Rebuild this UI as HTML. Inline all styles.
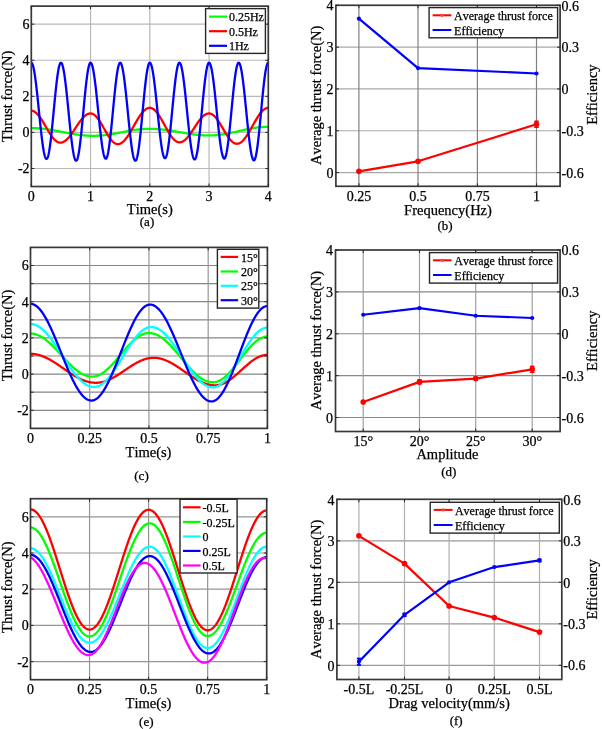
<!DOCTYPE html>
<html><head><meta charset="utf-8"><style>
html,body{margin:0;padding:0;background:#fff;}
svg{display:block;will-change:transform;}
text{font-family:"Liberation Serif", serif;fill:#000;font-kerning:none;stroke:#000;stroke-width:0.25px;}
</style></head><body>
<svg width="602" height="729" viewBox="0 0 602 729">
<rect width="602" height="729" fill="#fff"/>
<line x1="31.3" y1="24.16000000000001" x2="268.3" y2="24.16000000000001" stroke="#b8b8b8" stroke-width="1.2"/><line x1="31.3" y1="60.24000000000001" x2="268.3" y2="60.24000000000001" stroke="#b8b8b8" stroke-width="1.2"/><line x1="31.3" y1="96.32000000000001" x2="268.3" y2="96.32000000000001" stroke="#b8b8b8" stroke-width="1.2"/><line x1="31.3" y1="132.4" x2="268.3" y2="132.4" stroke="#b8b8b8" stroke-width="1.2"/><line x1="31.3" y1="168.48000000000002" x2="268.3" y2="168.48000000000002" stroke="#b8b8b8" stroke-width="1.2"/><line x1="90.55" y1="6.1200000000000045" x2="90.55" y2="186.52" stroke="#b8b8b8" stroke-width="1.2"/><line x1="149.8" y1="6.1200000000000045" x2="149.8" y2="186.52" stroke="#b8b8b8" stroke-width="1.2"/><line x1="209.05" y1="6.1200000000000045" x2="209.05" y2="186.52" stroke="#b8b8b8" stroke-width="1.2"/><path d="M31.30,128.07 L31.60,128.07 L31.89,128.07 L32.19,128.07 L32.48,128.08 L32.78,128.08 L33.08,128.09 L33.37,128.09 L33.67,128.10 L33.97,128.11 L34.26,128.11 L34.56,128.12 L34.86,128.13 L35.15,128.14 L35.45,128.16 L35.74,128.17 L36.04,128.18 L36.34,128.20 L36.63,128.21 L36.93,128.23 L37.23,128.24 L37.52,128.26 L37.82,128.28 L38.11,128.30 L38.41,128.32 L38.71,128.34 L39.00,128.36 L39.30,128.38 L39.59,128.41 L39.89,128.43 L40.19,128.45 L40.48,128.48 L40.78,128.51 L41.08,128.53 L41.37,128.56 L41.67,128.59 L41.97,128.62 L42.26,128.65 L42.56,128.68 L42.85,128.71 L43.15,128.74 L43.45,128.78 L43.74,128.81 L44.04,128.85 L44.34,128.88 L44.63,128.92 L44.93,128.95 L45.22,128.99 L45.52,129.03 L45.82,129.07 L46.11,129.11 L46.41,129.15 L46.70,129.19 L47.00,129.23 L47.30,129.27 L47.59,129.31 L47.89,129.35 L48.19,129.40 L48.48,129.44 L48.78,129.49 L49.08,129.53 L49.37,129.58 L49.67,129.62 L49.96,129.67 L50.26,129.72 L50.56,129.76 L50.85,129.81 L51.15,129.86 L51.45,129.91 L51.74,129.96 L52.04,130.01 L52.33,130.06 L52.63,130.11 L52.93,130.16 L53.22,130.21 L53.52,130.27 L53.81,130.32 L54.11,130.37 L54.41,130.42 L54.70,130.48 L55.00,130.53 L55.30,130.59 L55.59,130.64 L55.89,130.70 L56.19,130.75 L56.48,130.81 L56.78,130.86 L57.07,130.92 L57.37,130.97 L57.67,131.03 L57.96,131.09 L58.26,131.14 L58.56,131.20 L58.85,131.26 L59.15,131.31 L59.44,131.37 L59.74,131.43 L60.04,131.49 L60.33,131.54 L60.63,131.60 L60.92,131.66 L61.22,131.72 L61.52,131.77 L61.81,131.83 L62.11,131.89 L62.41,131.95 L62.70,132.01 L63.00,132.07 L63.30,132.12 L63.59,132.18 L63.89,132.24 L64.18,132.30 L64.48,132.35 L64.78,132.41 L65.07,132.47 L65.37,132.53 L65.66,132.58 L65.96,132.64 L66.26,132.70 L66.55,132.76 L66.85,132.81 L67.15,132.87 L67.44,132.92 L67.74,132.98 L68.03,133.04 L68.33,133.09 L68.63,133.15 L68.92,133.20 L69.22,133.26 L69.52,133.31 L69.81,133.37 L70.11,133.42 L70.41,133.47 L70.70,133.53 L71.00,133.58 L71.29,133.63 L71.59,133.68 L71.89,133.74 L72.18,133.79 L72.48,133.84 L72.77,133.89 L73.07,133.94 L73.37,133.99 L73.66,134.04 L73.96,134.09 L74.26,134.13 L74.55,134.18 L74.85,134.23 L75.14,134.28 L75.44,134.32 L75.74,134.37 L76.03,134.41 L76.33,134.46 L76.63,134.50 L76.92,134.54 L77.22,134.59 L77.52,134.63 L77.81,134.67 L78.11,134.71 L78.40,134.75 L78.70,134.79 L79.00,134.83 L79.29,134.87 L79.59,134.91 L79.88,134.94 L80.18,134.98 L80.48,135.02 L80.77,135.05 L81.07,135.09 L81.37,135.12 L81.66,135.15 L81.96,135.19 L82.25,135.22 L82.55,135.25 L82.85,135.28 L83.14,135.31 L83.44,135.34 L83.74,135.36 L84.03,135.39 L84.33,135.42 L84.62,135.44 L84.92,135.47 L85.22,135.49 L85.51,135.52 L85.81,135.54 L86.11,135.56 L86.40,135.58 L86.70,135.60 L87.00,135.62 L87.29,135.64 L87.59,135.66 L87.88,135.67 L88.18,135.69 L88.48,135.70 L88.77,135.72 L89.07,135.73 L89.36,135.74 L89.66,135.75 L89.96,135.77 L90.25,135.78 L90.55,135.78 L90.85,135.79 L91.14,135.80 L91.44,135.81 L91.73,135.81 L92.03,135.82 L92.33,135.82 L92.62,135.82 L92.92,135.83 L93.22,135.83 L93.51,135.83 L93.81,135.83 L94.11,135.83 L94.40,135.82 L94.70,135.82 L94.99,135.82 L95.29,135.81 L95.59,135.80 L95.88,135.80 L96.18,135.79 L96.48,135.78 L96.77,135.77 L97.07,135.76 L97.36,135.75 L97.66,135.73 L97.96,135.72 L98.25,135.71 L98.55,135.69 L98.84,135.67 L99.14,135.66 L99.44,135.64 L99.73,135.62 L100.03,135.60 L100.33,135.58 L100.62,135.55 L100.92,135.53 L101.21,135.51 L101.51,135.48 L101.81,135.46 L102.10,135.43 L102.40,135.40 L102.70,135.38 L102.99,135.35 L103.29,135.32 L103.58,135.29 L103.88,135.25 L104.18,135.22 L104.47,135.19 L104.77,135.16 L105.07,135.12 L105.36,135.09 L105.66,135.05 L105.95,135.01 L106.25,134.98 L106.55,134.94 L106.84,134.90 L107.14,134.86 L107.44,134.82 L107.73,134.78 L108.03,134.73 L108.33,134.69 L108.62,134.65 L108.92,134.61 L109.21,134.56 L109.51,134.52 L109.81,134.47 L110.10,134.42 L110.40,134.38 L110.70,134.33 L110.99,134.28 L111.29,134.23 L111.58,134.18 L111.88,134.14 L112.18,134.09 L112.47,134.04 L112.77,133.98 L113.06,133.93 L113.36,133.88 L113.66,133.83 L113.95,133.78 L114.25,133.72 L114.55,133.67 L114.84,133.62 L115.14,133.56 L115.43,133.51 L115.73,133.45 L116.03,133.40 L116.32,133.34 L116.62,133.29 L116.92,133.23 L117.21,133.17 L117.51,133.12 L117.80,133.06 L118.10,133.00 L118.40,132.95 L118.69,132.89 L118.99,132.83 L119.29,132.77 L119.58,132.72 L119.88,132.66 L120.17,132.60 L120.47,132.54 L120.77,132.48 L121.06,132.43 L121.36,132.37 L121.66,132.31 L121.95,132.25 L122.25,132.19 L122.55,132.14 L122.84,132.08 L123.14,132.02 L123.43,131.96 L123.73,131.90 L124.03,131.85 L124.32,131.79 L124.62,131.73 L124.92,131.67 L125.21,131.62 L125.51,131.56 L125.80,131.50 L126.10,131.45 L126.40,131.39 L126.69,131.33 L126.99,131.28 L127.28,131.22 L127.58,131.17 L127.88,131.11 L128.17,131.06 L128.47,131.00 L128.77,130.95 L129.06,130.90 L129.36,130.84 L129.66,130.79 L129.95,130.74 L130.25,130.69 L130.54,130.64 L130.84,130.58 L131.14,130.53 L131.43,130.48 L131.73,130.43 L132.03,130.39 L132.32,130.34 L132.62,130.29 L132.91,130.24 L133.21,130.20 L133.51,130.15 L133.80,130.10 L134.10,130.06 L134.40,130.01 L134.69,129.97 L134.99,129.93 L135.28,129.88 L135.58,129.84 L135.88,129.80 L136.17,129.76 L136.47,129.72 L136.77,129.68 L137.06,129.64 L137.36,129.61 L137.65,129.57 L137.95,129.53 L138.25,129.50 L138.54,129.46 L138.84,129.43 L139.14,129.40 L139.43,129.36 L139.73,129.33 L140.02,129.30 L140.32,129.27 L140.62,129.24 L140.91,129.22 L141.21,129.19 L141.51,129.16 L141.80,129.14 L142.10,129.11 L142.39,129.09 L142.69,129.07 L142.99,129.04 L143.28,129.02 L143.58,129.00 L143.88,128.98 L144.17,128.96 L144.47,128.95 L144.76,128.93 L145.06,128.91 L145.36,128.90 L145.65,128.89 L145.95,128.87 L146.25,128.86 L146.54,128.85 L146.84,128.84 L147.13,128.83 L147.43,128.82 L147.73,128.82 L148.02,128.81 L148.32,128.80 L148.62,128.80 L148.91,128.80 L149.21,128.79 L149.50,128.79 L149.80,128.79 L150.10,128.79 L150.39,128.79 L150.69,128.80 L150.99,128.80 L151.28,128.80 L151.58,128.81 L151.87,128.81 L152.17,128.82 L152.47,128.83 L152.76,128.83 L153.06,128.84 L153.36,128.85 L153.65,128.86 L153.95,128.87 L154.24,128.88 L154.54,128.90 L154.84,128.91 L155.13,128.92 L155.43,128.94 L155.73,128.96 L156.02,128.97 L156.32,128.99 L156.61,129.01 L156.91,129.03 L157.21,129.05 L157.50,129.07 L157.80,129.09 L158.09,129.11 L158.39,129.13 L158.69,129.16 L158.98,129.18 L159.28,129.20 L159.58,129.23 L159.87,129.26 L160.17,129.28 L160.47,129.31 L160.76,129.34 L161.06,129.37 L161.35,129.40 L161.65,129.43 L161.95,129.46 L162.24,129.49 L162.54,129.52 L162.84,129.56 L163.13,129.59 L163.43,129.63 L163.72,129.66 L164.02,129.70 L164.32,129.73 L164.61,129.77 L164.91,129.81 L165.21,129.84 L165.50,129.88 L165.80,129.92 L166.09,129.96 L166.39,130.00 L166.69,130.04 L166.98,130.08 L167.28,130.13 L167.57,130.17 L167.87,130.21 L168.17,130.25 L168.46,130.30 L168.76,130.34 L169.06,130.39 L169.35,130.43 L169.65,130.48 L169.94,130.52 L170.24,130.57 L170.54,130.61 L170.83,130.66 L171.13,130.71 L171.43,130.76 L171.72,130.80 L172.02,130.85 L172.31,130.90 L172.61,130.95 L172.91,131.00 L173.20,131.05 L173.50,131.10 L173.80,131.15 L174.09,131.20 L174.39,131.25 L174.69,131.30 L174.98,131.35 L175.28,131.40 L175.57,131.45 L175.87,131.50 L176.17,131.56 L176.46,131.61 L176.76,131.66 L177.06,131.71 L177.35,131.76 L177.65,131.82 L177.94,131.87 L178.24,131.92 L178.54,131.97 L178.83,132.02 L179.13,132.08 L179.43,132.13 L179.72,132.18 L180.02,132.23 L180.31,132.29 L180.61,132.34 L180.91,132.39 L181.20,132.44 L181.50,132.50 L181.80,132.55 L182.09,132.60 L182.39,132.65 L182.68,132.70 L182.98,132.75 L183.28,132.81 L183.57,132.86 L183.87,132.91 L184.17,132.96 L184.46,133.01 L184.76,133.06 L185.05,133.11 L185.35,133.16 L185.65,133.21 L185.94,133.26 L186.24,133.31 L186.54,133.36 L186.83,133.41 L187.13,133.45 L187.42,133.50 L187.72,133.55 L188.02,133.60 L188.31,133.64 L188.61,133.69 L188.91,133.74 L189.20,133.78 L189.50,133.83 L189.79,133.87 L190.09,133.92 L190.39,133.96 L190.68,134.01 L190.98,134.05 L191.28,134.09 L191.57,134.13 L191.87,134.17 L192.16,134.22 L192.46,134.26 L192.76,134.30 L193.05,134.34 L193.35,134.38 L193.65,134.41 L193.94,134.45 L194.24,134.49 L194.53,134.53 L194.83,134.56 L195.13,134.60 L195.42,134.63 L195.72,134.67 L196.01,134.70 L196.31,134.73 L196.61,134.77 L196.90,134.80 L197.20,134.83 L197.50,134.86 L197.79,134.89 L198.09,134.92 L198.38,134.95 L198.68,134.98 L198.98,135.00 L199.27,135.03 L199.57,135.05 L199.87,135.08 L200.16,135.10 L200.46,135.13 L200.75,135.15 L201.05,135.17 L201.35,135.19 L201.64,135.21 L201.94,135.23 L202.24,135.25 L202.53,135.27 L202.83,135.29 L203.12,135.30 L203.42,135.32 L203.72,135.33 L204.01,135.35 L204.31,135.36 L204.61,135.37 L204.90,135.39 L205.20,135.40 L205.50,135.41 L205.79,135.42 L206.09,135.43 L206.38,135.43 L206.68,135.44 L206.98,135.45 L207.27,135.45 L207.57,135.46 L207.87,135.46 L208.16,135.46 L208.46,135.47 L208.75,135.47 L209.05,135.47 L209.35,135.47 L209.64,135.46 L209.94,135.46 L210.24,135.46 L210.53,135.45 L210.83,135.45 L211.12,135.44 L211.42,135.43 L211.72,135.42 L212.01,135.41 L212.31,135.40 L212.61,135.39 L212.90,135.38 L213.20,135.36 L213.49,135.35 L213.79,135.33 L214.09,135.31 L214.38,135.29 L214.68,135.28 L214.98,135.25 L215.27,135.23 L215.57,135.21 L215.86,135.19 L216.16,135.16 L216.46,135.14 L216.75,135.11 L217.05,135.08 L217.35,135.05 L217.64,135.03 L217.94,134.99 L218.23,134.96 L218.53,134.93 L218.83,134.90 L219.12,134.86 L219.42,134.83 L219.72,134.79 L220.01,134.76 L220.31,134.72 L220.60,134.68 L220.90,134.64 L221.20,134.60 L221.49,134.56 L221.79,134.52 L222.09,134.47 L222.38,134.43 L222.68,134.38 L222.97,134.34 L223.27,134.29 L223.57,134.25 L223.86,134.20 L224.16,134.15 L224.46,134.10 L224.75,134.05 L225.05,134.00 L225.34,133.95 L225.64,133.90 L225.94,133.84 L226.23,133.79 L226.53,133.74 L226.82,133.68 L227.12,133.63 L227.42,133.57 L227.71,133.51 L228.01,133.46 L228.31,133.40 L228.60,133.34 L228.90,133.28 L229.19,133.22 L229.49,133.16 L229.79,133.10 L230.08,133.04 L230.38,132.98 L230.68,132.92 L230.97,132.86 L231.27,132.79 L231.56,132.73 L231.86,132.67 L232.16,132.60 L232.45,132.54 L232.75,132.48 L233.05,132.41 L233.34,132.35 L233.64,132.28 L233.94,132.21 L234.23,132.15 L234.53,132.08 L234.82,132.02 L235.12,131.95 L235.42,131.88 L235.71,131.81 L236.01,131.75 L236.31,131.68 L236.60,131.61 L236.90,131.54 L237.19,131.48 L237.49,131.41 L237.79,131.34 L238.08,131.27 L238.38,131.21 L238.68,131.14 L238.97,131.07 L239.27,131.00 L239.56,130.93 L239.86,130.87 L240.16,130.80 L240.45,130.73 L240.75,130.66 L241.05,130.59 L241.34,130.53 L241.64,130.46 L241.93,130.39 L242.23,130.33 L242.53,130.26 L242.82,130.19 L243.12,130.13 L243.42,130.06 L243.71,129.99 L244.01,129.93 L244.30,129.86 L244.60,129.80 L244.90,129.73 L245.19,129.67 L245.49,129.61 L245.79,129.54 L246.08,129.48 L246.38,129.42 L246.67,129.36 L246.97,129.29 L247.27,129.23 L247.56,129.17 L247.86,129.11 L248.16,129.05 L248.45,128.99 L248.75,128.93 L249.04,128.87 L249.34,128.82 L249.64,128.76 L249.93,128.70 L250.23,128.65 L250.53,128.59 L250.82,128.54 L251.12,128.48 L251.41,128.43 L251.71,128.38 L252.01,128.33 L252.30,128.27 L252.60,128.22 L252.90,128.17 L253.19,128.12 L253.49,128.08 L253.78,128.03 L254.08,127.98 L254.38,127.93 L254.67,127.89 L254.97,127.84 L255.26,127.80 L255.56,127.76 L255.86,127.72 L256.15,127.67 L256.45,127.63 L256.75,127.59 L257.04,127.56 L257.34,127.52 L257.63,127.48 L257.93,127.45 L258.23,127.41 L258.52,127.38 L258.82,127.34 L259.12,127.31 L259.41,127.28 L259.71,127.25 L260.00,127.22 L260.30,127.19 L260.60,127.16 L260.89,127.14 L261.19,127.11 L261.49,127.09 L261.78,127.06 L262.08,127.04 L262.38,127.02 L262.67,127.00 L262.97,126.98 L263.26,126.96 L263.56,126.94 L263.86,126.93 L264.15,126.91 L264.45,126.90 L264.75,126.88 L265.04,126.87 L265.34,126.86 L265.63,126.85 L265.93,126.84 L266.23,126.83 L266.52,126.83 L266.82,126.82 L267.12,126.82 L267.41,126.81 L267.71,126.81 L268.00,126.81 L268.30,126.81" fill="none" stroke="#00ff00" stroke-width="2.3" stroke-linejoin="round"/><path d="M31.30,110.75 L31.60,110.76 L31.89,110.78 L32.19,110.83 L32.48,110.88 L32.78,110.96 L33.08,111.05 L33.37,111.15 L33.67,111.27 L33.97,111.41 L34.26,111.57 L34.56,111.73 L34.86,111.92 L35.15,112.12 L35.45,112.33 L35.74,112.56 L36.04,112.81 L36.34,113.06 L36.63,113.34 L36.93,113.62 L37.23,113.92 L37.52,114.24 L37.82,114.56 L38.11,114.90 L38.41,115.25 L38.71,115.61 L39.00,115.98 L39.30,116.37 L39.59,116.76 L39.89,117.17 L40.19,117.58 L40.48,118.01 L40.78,118.44 L41.08,118.88 L41.37,119.33 L41.67,119.79 L41.97,120.25 L42.26,120.73 L42.56,121.20 L42.85,121.69 L43.15,122.17 L43.45,122.67 L43.74,123.16 L44.04,123.67 L44.34,124.17 L44.63,124.68 L44.93,125.18 L45.22,125.69 L45.52,126.21 L45.82,126.72 L46.11,127.23 L46.41,127.74 L46.70,128.25 L47.00,128.76 L47.30,129.27 L47.59,129.77 L47.89,130.27 L48.19,130.77 L48.48,131.26 L48.78,131.75 L49.08,132.23 L49.37,132.71 L49.67,133.18 L49.96,133.64 L50.26,134.10 L50.56,134.55 L50.85,134.99 L51.15,135.43 L51.45,135.85 L51.74,136.27 L52.04,136.67 L52.33,137.07 L52.63,137.45 L52.93,137.82 L53.22,138.19 L53.52,138.54 L53.81,138.87 L54.11,139.20 L54.41,139.51 L54.70,139.81 L55.00,140.10 L55.30,140.37 L55.59,140.63 L55.89,140.87 L56.19,141.10 L56.48,141.32 L56.78,141.52 L57.07,141.70 L57.37,141.87 L57.67,142.02 L57.96,142.16 L58.26,142.28 L58.56,142.39 L58.85,142.48 L59.15,142.55 L59.44,142.61 L59.74,142.65 L60.04,142.67 L60.33,142.68 L60.63,142.68 L60.92,142.66 L61.22,142.62 L61.52,142.57 L61.81,142.51 L62.11,142.43 L62.41,142.34 L62.70,142.24 L63.00,142.12 L63.30,142.00 L63.59,141.85 L63.89,141.70 L64.18,141.53 L64.48,141.35 L64.78,141.15 L65.07,140.94 L65.37,140.73 L65.66,140.49 L65.96,140.25 L66.26,140.00 L66.55,139.73 L66.85,139.45 L67.15,139.17 L67.44,138.87 L67.74,138.56 L68.03,138.24 L68.33,137.91 L68.63,137.58 L68.92,137.23 L69.22,136.88 L69.52,136.51 L69.81,136.14 L70.11,135.76 L70.41,135.38 L70.70,134.98 L71.00,134.58 L71.29,134.18 L71.59,133.77 L71.89,133.35 L72.18,132.93 L72.48,132.50 L72.77,132.07 L73.07,131.63 L73.37,131.20 L73.66,130.76 L73.96,130.31 L74.26,129.87 L74.55,129.42 L74.85,128.97 L75.14,128.52 L75.44,128.07 L75.74,127.62 L76.03,127.17 L76.33,126.72 L76.63,126.27 L76.92,125.83 L77.22,125.39 L77.52,124.94 L77.81,124.51 L78.11,124.07 L78.40,123.64 L78.70,123.21 L79.00,122.79 L79.29,122.37 L79.59,121.96 L79.88,121.56 L80.18,121.16 L80.48,120.76 L80.77,120.38 L81.07,120.00 L81.37,119.63 L81.66,119.26 L81.96,118.91 L82.25,118.56 L82.55,118.23 L82.85,117.90 L83.14,117.58 L83.44,117.27 L83.74,116.97 L84.03,116.69 L84.33,116.41 L84.62,116.14 L84.92,115.89 L85.22,115.65 L85.51,115.42 L85.81,115.20 L86.11,114.99 L86.40,114.80 L86.70,114.61 L87.00,114.44 L87.29,114.29 L87.59,114.15 L87.88,114.02 L88.18,113.90 L88.48,113.80 L88.77,113.71 L89.07,113.63 L89.36,113.57 L89.66,113.52 L89.96,113.49 L90.25,113.46 L90.55,113.46 L90.85,113.47 L91.14,113.49 L91.44,113.54 L91.73,113.60 L92.03,113.68 L92.33,113.78 L92.62,113.89 L92.92,114.03 L93.22,114.18 L93.51,114.34 L93.81,114.53 L94.11,114.73 L94.40,114.94 L94.70,115.18 L94.99,115.43 L95.29,115.69 L95.59,115.97 L95.88,116.26 L96.18,116.57 L96.48,116.90 L96.77,117.23 L97.07,117.59 L97.36,117.95 L97.66,118.33 L97.96,118.71 L98.25,119.11 L98.55,119.53 L98.84,119.95 L99.14,120.38 L99.44,120.82 L99.73,121.28 L100.03,121.74 L100.33,122.21 L100.62,122.68 L100.92,123.17 L101.21,123.66 L101.51,124.15 L101.81,124.65 L102.10,125.16 L102.40,125.67 L102.70,126.19 L102.99,126.70 L103.29,127.22 L103.58,127.75 L103.88,128.27 L104.18,128.79 L104.47,129.32 L104.77,129.84 L105.07,130.36 L105.36,130.88 L105.66,131.40 L105.95,131.91 L106.25,132.42 L106.55,132.93 L106.84,133.43 L107.14,133.93 L107.44,134.42 L107.73,134.90 L108.03,135.38 L108.33,135.85 L108.62,136.31 L108.92,136.76 L109.21,137.20 L109.51,137.63 L109.81,138.06 L110.10,138.47 L110.40,138.87 L110.70,139.26 L110.99,139.63 L111.29,140.00 L111.58,140.35 L111.88,140.69 L112.18,141.01 L112.47,141.32 L112.77,141.61 L113.06,141.89 L113.36,142.16 L113.66,142.41 L113.95,142.64 L114.25,142.86 L114.55,143.06 L114.84,143.24 L115.14,143.41 L115.43,143.56 L115.73,143.69 L116.03,143.81 L116.32,143.90 L116.62,143.98 L116.92,144.05 L117.21,144.09 L117.51,144.12 L117.80,144.13 L118.10,144.12 L118.40,144.10 L118.69,144.06 L118.99,144.00 L119.29,143.93 L119.58,143.85 L119.88,143.75 L120.17,143.64 L120.47,143.51 L120.77,143.36 L121.06,143.21 L121.36,143.03 L121.66,142.85 L121.95,142.64 L122.25,142.43 L122.55,142.20 L122.84,141.95 L123.14,141.70 L123.43,141.43 L123.73,141.14 L124.03,140.85 L124.32,140.54 L124.62,140.22 L124.92,139.88 L125.21,139.54 L125.51,139.18 L125.80,138.82 L126.10,138.44 L126.40,138.05 L126.69,137.65 L126.99,137.24 L127.28,136.82 L127.58,136.39 L127.88,135.96 L128.17,135.51 L128.47,135.06 L128.77,134.60 L129.06,134.13 L129.36,133.66 L129.66,133.18 L129.95,132.69 L130.25,132.20 L130.54,131.70 L130.84,131.20 L131.14,130.69 L131.43,130.18 L131.73,129.66 L132.03,129.14 L132.32,128.62 L132.62,128.10 L132.91,127.58 L133.21,127.05 L133.51,126.52 L133.80,126.00 L134.10,125.47 L134.40,124.94 L134.69,124.42 L134.99,123.89 L135.28,123.37 L135.58,122.85 L135.88,122.33 L136.17,121.81 L136.47,121.30 L136.77,120.80 L137.06,120.29 L137.36,119.79 L137.65,119.30 L137.95,118.81 L138.25,118.33 L138.54,117.86 L138.84,117.39 L139.14,116.93 L139.43,116.48 L139.73,116.03 L140.02,115.60 L140.32,115.17 L140.62,114.75 L140.91,114.34 L141.21,113.94 L141.51,113.55 L141.80,113.18 L142.10,112.81 L142.39,112.45 L142.69,112.11 L142.99,111.77 L143.28,111.45 L143.58,111.14 L143.88,110.85 L144.17,110.56 L144.47,110.29 L144.76,110.04 L145.06,109.79 L145.36,109.56 L145.65,109.35 L145.95,109.15 L146.25,108.96 L146.54,108.79 L146.84,108.63 L147.13,108.48 L147.43,108.35 L147.73,108.24 L148.02,108.14 L148.32,108.06 L148.62,107.99 L148.91,107.93 L149.21,107.90 L149.50,107.87 L149.80,107.87 L150.10,107.87 L150.39,107.90 L150.69,107.94 L150.99,108.00 L151.28,108.08 L151.58,108.17 L151.87,108.28 L152.17,108.41 L152.47,108.55 L152.76,108.71 L153.06,108.88 L153.36,109.08 L153.65,109.28 L153.95,109.51 L154.24,109.74 L154.54,110.00 L154.84,110.26 L155.13,110.55 L155.43,110.84 L155.73,111.16 L156.02,111.48 L156.32,111.82 L156.61,112.17 L156.91,112.53 L157.21,112.91 L157.50,113.30 L157.80,113.70 L158.09,114.11 L158.39,114.53 L158.69,114.97 L158.98,115.41 L159.28,115.86 L159.58,116.32 L159.87,116.79 L160.17,117.27 L160.47,117.76 L160.76,118.25 L161.06,118.75 L161.35,119.26 L161.65,119.77 L161.95,120.29 L162.24,120.81 L162.54,121.34 L162.84,121.87 L163.13,122.40 L163.43,122.93 L163.72,123.47 L164.02,124.01 L164.32,124.55 L164.61,125.09 L164.91,125.63 L165.21,126.18 L165.50,126.72 L165.80,127.25 L166.09,127.79 L166.39,128.32 L166.69,128.85 L166.98,129.38 L167.28,129.90 L167.57,130.42 L167.87,130.93 L168.17,131.44 L168.46,131.94 L168.76,132.43 L169.06,132.92 L169.35,133.39 L169.65,133.86 L169.94,134.33 L170.24,134.78 L170.54,135.22 L170.83,135.65 L171.13,136.08 L171.43,136.49 L171.72,136.89 L172.02,137.28 L172.31,137.65 L172.61,138.02 L172.91,138.37 L173.20,138.71 L173.50,139.03 L173.80,139.34 L174.09,139.64 L174.39,139.92 L174.69,140.19 L174.98,140.44 L175.28,140.68 L175.57,140.91 L175.87,141.11 L176.17,141.30 L176.46,141.48 L176.76,141.64 L177.06,141.78 L177.35,141.91 L177.65,142.02 L177.94,142.11 L178.24,142.19 L178.54,142.25 L178.83,142.29 L179.13,142.31 L179.43,142.32 L179.72,142.31 L180.02,142.29 L180.31,142.26 L180.61,142.21 L180.91,142.14 L181.20,142.07 L181.50,141.97 L181.80,141.87 L182.09,141.75 L182.39,141.62 L182.68,141.47 L182.98,141.31 L183.28,141.14 L183.57,140.95 L183.87,140.75 L184.17,140.54 L184.46,140.31 L184.76,140.08 L185.05,139.83 L185.35,139.57 L185.65,139.29 L185.94,139.01 L186.24,138.72 L186.54,138.41 L186.83,138.09 L187.13,137.77 L187.42,137.43 L187.72,137.09 L188.02,136.74 L188.31,136.37 L188.61,136.00 L188.91,135.62 L189.20,135.24 L189.50,134.84 L189.79,134.44 L190.09,134.03 L190.39,133.62 L190.68,133.20 L190.98,132.78 L191.28,132.35 L191.57,131.92 L191.87,131.48 L192.16,131.04 L192.46,130.59 L192.76,130.15 L193.05,129.70 L193.35,129.25 L193.65,128.80 L193.94,128.34 L194.24,127.89 L194.53,127.44 L194.83,126.98 L195.13,126.53 L195.42,126.08 L195.72,125.63 L196.01,125.19 L196.31,124.74 L196.61,124.30 L196.90,123.86 L197.20,123.43 L197.50,123.00 L197.79,122.58 L198.09,122.16 L198.38,121.75 L198.68,121.34 L198.98,120.94 L199.27,120.54 L199.57,120.16 L199.87,119.78 L200.16,119.41 L200.46,119.04 L200.75,118.69 L201.05,118.35 L201.35,118.01 L201.64,117.69 L201.94,117.37 L202.24,117.06 L202.53,116.77 L202.83,116.49 L203.12,116.21 L203.42,115.95 L203.72,115.70 L204.01,115.47 L204.31,115.24 L204.61,115.03 L204.90,114.83 L205.20,114.64 L205.50,114.47 L205.79,114.31 L206.09,114.16 L206.38,114.03 L206.68,113.91 L206.98,113.81 L207.27,113.71 L207.57,113.64 L207.87,113.57 L208.16,113.52 L208.46,113.49 L208.75,113.47 L209.05,113.46 L209.35,113.47 L209.64,113.49 L209.94,113.53 L210.24,113.59 L210.53,113.67 L210.83,113.76 L211.12,113.87 L211.42,114.00 L211.72,114.14 L212.01,114.30 L212.31,114.47 L212.61,114.66 L212.90,114.87 L213.20,115.09 L213.49,115.32 L213.79,115.57 L214.09,115.84 L214.38,116.12 L214.68,116.41 L214.98,116.72 L215.27,117.04 L215.57,117.37 L215.86,117.72 L216.16,118.08 L216.46,118.45 L216.75,118.83 L217.05,119.22 L217.35,119.62 L217.64,120.04 L217.94,120.46 L218.23,120.89 L218.53,121.33 L218.83,121.78 L219.12,122.23 L219.42,122.70 L219.72,123.17 L220.01,123.64 L220.31,124.12 L220.60,124.61 L220.90,125.10 L221.20,125.59 L221.49,126.09 L221.79,126.59 L222.09,127.09 L222.38,127.60 L222.68,128.11 L222.97,128.61 L223.27,129.12 L223.57,129.62 L223.86,130.13 L224.16,130.63 L224.46,131.13 L224.75,131.63 L225.05,132.12 L225.34,132.62 L225.64,133.10 L225.94,133.58 L226.23,134.06 L226.53,134.53 L226.82,134.99 L227.12,135.45 L227.42,135.89 L227.71,136.33 L228.01,136.77 L228.31,137.19 L228.60,137.60 L228.90,138.00 L229.19,138.40 L229.49,138.78 L229.79,139.15 L230.08,139.50 L230.38,139.85 L230.68,140.18 L230.97,140.50 L231.27,140.81 L231.56,141.10 L231.86,141.38 L232.16,141.65 L232.45,141.90 L232.75,142.14 L233.05,142.36 L233.34,142.56 L233.64,142.75 L233.94,142.93 L234.23,143.08 L234.53,143.23 L234.82,143.35 L235.12,143.46 L235.42,143.55 L235.71,143.63 L236.01,143.69 L236.31,143.73 L236.60,143.76 L236.90,143.77 L237.19,143.76 L237.49,143.73 L237.79,143.69 L238.08,143.64 L238.38,143.57 L238.68,143.48 L238.97,143.38 L239.27,143.26 L239.56,143.13 L239.86,142.98 L240.16,142.82 L240.45,142.64 L240.75,142.45 L241.05,142.24 L241.34,142.02 L241.64,141.78 L241.93,141.53 L242.23,141.27 L242.53,140.99 L242.82,140.70 L243.12,140.40 L243.42,140.08 L243.71,139.75 L244.01,139.41 L244.30,139.06 L244.60,138.69 L244.90,138.32 L245.19,137.93 L245.49,137.53 L245.79,137.13 L246.08,136.71 L246.38,136.28 L246.67,135.84 L246.97,135.40 L247.27,134.94 L247.56,134.48 L247.86,134.01 L248.16,133.53 L248.45,133.05 L248.75,132.56 L249.04,132.07 L249.34,131.56 L249.64,131.06 L249.93,130.55 L250.23,130.03 L250.53,129.51 L250.82,128.99 L251.12,128.47 L251.41,127.94 L251.71,127.41 L252.01,126.88 L252.30,126.35 L252.60,125.82 L252.90,125.28 L253.19,124.75 L253.49,124.22 L253.78,123.69 L254.08,123.17 L254.38,122.64 L254.67,122.12 L254.97,121.60 L255.26,121.08 L255.56,120.57 L255.86,120.07 L256.15,119.57 L256.45,119.07 L256.75,118.58 L257.04,118.10 L257.34,117.62 L257.63,117.15 L257.93,116.69 L258.23,116.23 L258.52,115.79 L258.82,115.35 L259.12,114.92 L259.41,114.51 L259.71,114.10 L260.00,113.70 L260.30,113.31 L260.60,112.94 L260.89,112.57 L261.19,112.22 L261.49,111.88 L261.78,111.55 L262.08,111.23 L262.38,110.93 L262.67,110.64 L262.97,110.36 L263.26,110.10 L263.56,109.85 L263.86,109.61 L264.15,109.39 L264.45,109.18 L264.75,108.99 L265.04,108.81 L265.34,108.65 L265.63,108.50 L265.93,108.37 L266.23,108.25 L266.52,108.15 L266.82,108.06 L267.12,107.99 L267.41,107.94 L267.71,107.90 L268.00,107.87 L268.30,107.87" fill="none" stroke="#ff0000" stroke-width="2.3" stroke-linejoin="round"/><path d="M31.30,62.77 L31.60,62.86 L31.89,63.12 L32.19,63.57 L32.48,64.20 L32.78,64.99 L33.08,65.96 L33.37,67.10 L33.67,68.40 L33.97,69.86 L34.26,71.47 L34.56,73.23 L34.86,75.13 L35.15,77.16 L35.45,79.32 L35.74,81.59 L36.04,83.98 L36.34,86.47 L36.63,89.04 L36.93,91.70 L37.23,94.43 L37.52,97.22 L37.82,100.06 L38.11,102.94 L38.41,105.86 L38.71,108.79 L39.00,111.72 L39.30,114.66 L39.59,117.58 L39.89,120.47 L40.19,123.33 L40.48,126.15 L40.78,128.90 L41.08,131.59 L41.37,134.20 L41.67,136.72 L41.97,139.15 L42.26,141.47 L42.56,143.68 L42.85,145.76 L43.15,147.71 L43.45,149.53 L43.74,151.20 L44.04,152.72 L44.34,154.08 L44.63,155.29 L44.93,156.32 L45.22,157.19 L45.52,157.88 L45.82,158.40 L46.11,158.74 L46.41,158.90 L46.70,158.88 L47.00,158.66 L47.30,158.24 L47.59,157.62 L47.89,156.81 L48.19,155.80 L48.48,154.61 L48.78,153.23 L49.08,151.68 L49.37,149.96 L49.67,148.07 L49.96,146.02 L50.26,143.83 L50.56,141.51 L50.85,139.05 L51.15,136.48 L51.45,133.80 L51.74,131.02 L52.04,128.16 L52.33,125.22 L52.63,122.23 L52.93,119.19 L53.22,116.11 L53.52,113.02 L53.81,109.91 L54.11,106.81 L54.41,103.72 L54.70,100.66 L55.00,97.65 L55.30,94.69 L55.59,91.80 L55.89,88.99 L56.19,86.27 L56.48,83.65 L56.78,81.15 L57.07,78.77 L57.37,76.52 L57.67,74.42 L57.96,72.47 L58.26,70.67 L58.56,69.05 L58.85,67.60 L59.15,66.34 L59.44,65.25 L59.74,64.36 L60.04,63.67 L60.33,63.17 L60.63,62.87 L60.92,62.77 L61.22,62.86 L61.52,63.13 L61.81,63.59 L62.11,64.22 L62.41,65.03 L62.70,66.02 L63.00,67.18 L63.30,68.50 L63.59,69.99 L63.89,71.63 L64.18,73.42 L64.48,75.36 L64.78,77.43 L65.07,79.63 L65.37,81.95 L65.66,84.38 L65.96,86.91 L66.26,89.54 L66.55,92.24 L66.85,95.02 L67.15,97.87 L67.44,100.76 L67.74,103.70 L68.03,106.66 L68.33,109.65 L68.63,112.64 L68.92,115.63 L69.22,118.61 L69.52,121.56 L69.81,124.47 L70.11,127.33 L70.41,130.14 L70.70,132.88 L71.00,135.54 L71.29,138.11 L71.59,140.58 L71.89,142.95 L72.18,145.19 L72.48,147.32 L72.77,149.31 L73.07,151.16 L73.37,152.86 L73.66,154.41 L73.96,155.80 L74.26,157.02 L74.55,158.08 L74.85,158.96 L75.14,159.67 L75.44,160.20 L75.74,160.54 L76.03,160.71 L76.33,160.69 L76.63,160.46 L76.92,160.03 L77.22,159.40 L77.52,158.57 L77.81,157.55 L78.11,156.33 L78.40,154.93 L78.70,153.35 L79.00,151.59 L79.29,149.67 L79.59,147.59 L79.88,145.36 L80.18,142.98 L80.48,140.48 L80.77,137.86 L81.07,135.13 L81.37,132.30 L81.66,129.39 L81.96,126.40 L82.25,123.35 L82.55,120.25 L82.85,117.12 L83.14,113.96 L83.44,110.79 L83.74,107.63 L84.03,104.49 L84.33,101.38 L84.62,98.30 L84.92,95.29 L85.22,92.34 L85.51,89.48 L85.81,86.71 L86.11,84.04 L86.40,81.49 L86.70,79.07 L87.00,76.78 L87.29,74.63 L87.59,72.65 L87.88,70.82 L88.18,69.17 L88.48,67.69 L88.77,66.40 L89.07,65.30 L89.36,64.39 L89.66,63.68 L89.96,63.17 L90.25,62.87 L90.55,62.77 L90.85,62.86 L91.14,63.12 L91.44,63.57 L91.73,64.19 L92.03,64.99 L92.33,65.96 L92.62,67.09 L92.92,68.39 L93.22,69.84 L93.51,71.45 L93.81,73.21 L94.11,75.10 L94.40,77.13 L94.70,79.29 L94.99,81.56 L95.29,83.94 L95.59,86.42 L95.88,88.99 L96.18,91.65 L96.48,94.37 L96.77,97.16 L97.07,99.99 L97.36,102.87 L97.66,105.77 L97.96,108.70 L98.25,111.63 L98.55,114.56 L98.84,117.48 L99.14,120.37 L99.44,123.22 L99.73,126.03 L100.03,128.78 L100.33,131.46 L100.62,134.06 L100.92,136.58 L101.21,139.01 L101.51,141.32 L101.81,143.52 L102.10,145.60 L102.40,147.55 L102.70,149.37 L102.99,151.03 L103.29,152.55 L103.58,153.91 L103.88,155.11 L104.18,156.15 L104.47,157.01 L104.77,157.71 L105.07,158.22 L105.36,158.56 L105.66,158.72 L105.95,158.70 L106.25,158.48 L106.55,158.06 L106.84,157.44 L107.14,156.63 L107.44,155.63 L107.73,154.44 L108.03,153.06 L108.33,151.51 L108.62,149.79 L108.92,147.91 L109.21,145.87 L109.51,143.68 L109.81,141.36 L110.10,138.91 L110.40,136.34 L110.70,133.66 L110.99,130.89 L111.29,128.04 L111.58,125.11 L111.88,122.12 L112.18,119.08 L112.47,116.01 L112.77,112.92 L113.06,109.82 L113.36,106.72 L113.66,103.64 L113.95,100.59 L114.25,97.58 L114.55,94.63 L114.84,91.75 L115.14,88.94 L115.43,86.22 L115.73,83.61 L116.03,81.11 L116.32,78.74 L116.62,76.49 L116.92,74.39 L117.21,72.45 L117.51,70.66 L117.80,69.04 L118.10,67.59 L118.40,66.33 L118.69,65.25 L118.99,64.36 L119.29,63.67 L119.58,63.17 L119.88,62.87 L120.17,62.77 L120.47,62.86 L120.77,63.13 L121.06,63.59 L121.36,64.22 L121.66,65.03 L121.95,66.02 L122.25,67.18 L122.55,68.50 L122.84,69.99 L123.14,71.63 L123.43,73.42 L123.73,75.36 L124.03,77.43 L124.32,79.63 L124.62,81.95 L124.92,84.38 L125.21,86.91 L125.51,89.54 L125.80,92.24 L126.10,95.02 L126.40,97.87 L126.69,100.76 L126.99,103.70 L127.28,106.66 L127.58,109.65 L127.88,112.64 L128.17,115.63 L128.47,118.61 L128.77,121.56 L129.06,124.47 L129.36,127.33 L129.66,130.14 L129.95,132.88 L130.25,135.54 L130.54,138.11 L130.84,140.58 L131.14,142.95 L131.43,145.19 L131.73,147.32 L132.03,149.31 L132.32,151.16 L132.62,152.86 L132.91,154.41 L133.21,155.80 L133.51,157.02 L133.80,158.08 L134.10,158.96 L134.40,159.67 L134.69,160.20 L134.99,160.54 L135.28,160.71 L135.58,160.69 L135.88,160.46 L136.17,160.03 L136.47,159.40 L136.77,158.57 L137.06,157.55 L137.36,156.33 L137.65,154.93 L137.95,153.35 L138.25,151.59 L138.54,149.67 L138.84,147.59 L139.14,145.36 L139.43,142.98 L139.73,140.48 L140.02,137.86 L140.32,135.13 L140.62,132.30 L140.91,129.39 L141.21,126.40 L141.51,123.35 L141.80,120.25 L142.10,117.12 L142.39,113.96 L142.69,110.79 L142.99,107.63 L143.28,104.49 L143.58,101.38 L143.88,98.30 L144.17,95.29 L144.47,92.34 L144.76,89.48 L145.06,86.71 L145.36,84.04 L145.65,81.49 L145.95,79.07 L146.25,76.78 L146.54,74.63 L146.84,72.65 L147.13,70.82 L147.43,69.17 L147.73,67.69 L148.02,66.40 L148.32,65.30 L148.62,64.39 L148.91,63.68 L149.21,63.17 L149.50,62.87 L149.80,62.77 L150.10,62.85 L150.39,63.12 L150.69,63.57 L150.99,64.18 L151.28,64.98 L151.58,65.94 L151.87,67.07 L152.17,68.36 L152.47,69.80 L152.76,71.40 L153.06,73.15 L153.36,75.03 L153.65,77.05 L153.95,79.19 L154.24,81.45 L154.54,83.82 L154.84,86.29 L155.13,88.84 L155.43,91.48 L155.73,94.19 L156.02,96.96 L156.32,99.78 L156.61,102.64 L156.91,105.53 L157.21,108.44 L157.50,111.36 L157.80,114.27 L158.09,117.17 L158.39,120.04 L158.69,122.88 L158.98,125.67 L159.28,128.40 L159.58,131.07 L159.87,133.66 L160.17,136.17 L160.47,138.58 L160.76,140.88 L161.06,143.07 L161.35,145.14 L161.65,147.08 L161.95,148.88 L162.24,150.54 L162.54,152.05 L162.84,153.40 L163.13,154.59 L163.43,155.62 L163.72,156.48 L164.02,157.17 L164.32,157.68 L164.61,158.02 L164.91,158.18 L165.21,158.16 L165.50,157.94 L165.80,157.52 L166.09,156.91 L166.39,156.10 L166.69,155.10 L166.98,153.92 L167.28,152.55 L167.57,151.01 L167.87,149.30 L168.17,147.43 L168.46,145.40 L168.76,143.23 L169.06,140.92 L169.35,138.48 L169.65,135.92 L169.94,133.26 L170.24,130.51 L170.54,127.67 L170.83,124.76 L171.13,121.79 L171.43,118.77 L171.72,115.71 L172.02,112.64 L172.31,109.56 L172.61,106.48 L172.91,103.41 L173.20,100.38 L173.50,97.39 L173.80,94.45 L174.09,91.58 L174.39,88.79 L174.69,86.09 L174.98,83.49 L175.28,81.01 L175.57,78.65 L175.87,76.42 L176.17,74.33 L176.46,72.39 L176.76,70.62 L177.06,69.00 L177.35,67.57 L177.65,66.31 L177.94,65.24 L178.24,64.35 L178.54,63.66 L178.83,63.16 L179.13,62.87 L179.43,62.77 L179.72,62.86 L180.02,63.13 L180.31,63.58 L180.61,64.20 L180.91,65.01 L181.20,65.98 L181.50,67.12 L181.80,68.43 L182.09,69.90 L182.39,71.52 L182.68,73.29 L182.98,75.20 L183.28,77.24 L183.57,79.41 L183.87,81.70 L184.17,84.10 L184.46,86.60 L184.76,89.19 L185.05,91.86 L185.35,94.61 L185.65,97.41 L185.94,100.27 L186.24,103.17 L186.54,106.10 L186.83,109.04 L187.13,112.00 L187.42,114.95 L187.72,117.89 L188.02,120.80 L188.31,123.67 L188.61,126.50 L188.91,129.27 L189.20,131.98 L189.50,134.60 L189.79,137.14 L190.09,139.58 L190.39,141.91 L190.68,144.13 L190.98,146.23 L191.28,148.19 L191.57,150.02 L191.87,151.70 L192.16,153.23 L192.46,154.60 L192.76,155.81 L193.05,156.85 L193.35,157.72 L193.65,158.42 L193.94,158.94 L194.24,159.28 L194.53,159.45 L194.83,159.42 L195.13,159.20 L195.42,158.78 L195.72,158.16 L196.01,157.34 L196.31,156.33 L196.61,155.13 L196.90,153.74 L197.20,152.18 L197.50,150.45 L197.79,148.55 L198.09,146.49 L198.38,144.29 L198.68,141.95 L198.98,139.48 L199.27,136.89 L199.57,134.20 L199.87,131.40 L200.16,128.53 L200.46,125.58 L200.75,122.57 L201.05,119.51 L201.35,116.42 L201.64,113.30 L201.94,110.18 L202.24,107.05 L202.53,103.95 L202.83,100.88 L203.12,97.85 L203.42,94.87 L203.72,91.96 L204.01,89.14 L204.31,86.40 L204.61,83.77 L204.90,81.25 L205.20,78.86 L205.50,76.60 L205.79,74.48 L206.09,72.52 L206.38,70.72 L206.68,69.09 L206.98,67.63 L207.27,66.36 L207.57,65.27 L207.87,64.37 L208.16,63.67 L208.46,63.17 L208.75,62.87 L209.05,62.77 L209.35,62.86 L209.64,63.12 L209.94,63.57 L210.24,64.19 L210.53,64.98 L210.83,65.95 L211.12,67.08 L211.42,68.38 L211.72,69.83 L212.01,71.44 L212.31,73.19 L212.61,75.08 L212.90,77.11 L213.20,79.26 L213.49,81.52 L213.79,83.90 L214.09,86.38 L214.38,88.94 L214.68,91.59 L214.98,94.31 L215.27,97.09 L215.57,99.92 L215.86,102.79 L216.16,105.69 L216.46,108.61 L216.75,111.54 L217.05,114.46 L217.35,117.37 L217.64,120.26 L217.94,123.11 L218.23,125.91 L218.53,128.65 L218.83,131.33 L219.12,133.93 L219.42,136.44 L219.72,138.86 L220.01,141.17 L220.31,143.37 L220.60,145.45 L220.90,147.39 L221.20,149.20 L221.49,150.87 L221.79,152.38 L222.09,153.74 L222.38,154.94 L222.68,155.97 L222.97,156.84 L223.27,157.53 L223.57,158.04 L223.86,158.38 L224.16,158.54 L224.46,158.52 L224.75,158.30 L225.05,157.88 L225.34,157.27 L225.64,156.46 L225.94,155.45 L226.23,154.26 L226.53,152.89 L226.82,151.35 L227.12,149.63 L227.42,147.75 L227.71,145.71 L228.01,143.53 L228.31,141.21 L228.60,138.76 L228.90,136.20 L229.19,133.53 L229.49,130.76 L229.79,127.91 L230.08,124.99 L230.38,122.01 L230.68,118.98 L230.97,115.91 L231.27,112.83 L231.56,109.73 L231.86,106.64 L232.16,103.57 L232.45,100.52 L232.75,97.52 L233.05,94.57 L233.34,91.69 L233.64,88.89 L233.94,86.18 L234.23,83.57 L234.53,81.08 L234.82,78.71 L235.12,76.47 L235.42,74.37 L235.71,72.43 L236.01,70.65 L236.31,69.03 L236.60,67.59 L236.90,66.32 L237.19,65.25 L237.49,64.36 L237.79,63.66 L238.08,63.17 L238.38,62.87 L238.68,62.77 L238.97,62.86 L239.27,63.13 L239.56,63.58 L239.86,64.22 L240.16,65.03 L240.45,66.01 L240.75,67.16 L241.05,68.48 L241.34,69.96 L241.64,71.60 L241.93,73.39 L242.23,75.31 L242.53,77.38 L242.82,79.57 L243.12,81.88 L243.42,84.30 L243.71,86.82 L244.01,89.44 L244.30,92.13 L244.60,94.90 L244.90,97.74 L245.19,100.62 L245.49,103.55 L245.79,106.50 L246.08,109.48 L246.38,112.46 L246.67,115.44 L246.97,118.40 L247.27,121.34 L247.56,124.24 L247.86,127.10 L248.16,129.89 L248.45,132.62 L248.75,135.27 L249.04,137.83 L249.34,140.29 L249.64,142.65 L249.93,144.89 L250.23,147.01 L250.53,148.99 L250.82,150.83 L251.12,152.53 L251.41,154.07 L251.71,155.46 L252.01,156.68 L252.30,157.73 L252.60,158.61 L252.90,159.31 L253.19,159.84 L253.49,160.18 L253.78,160.35 L254.08,160.33 L254.38,160.10 L254.67,159.67 L254.97,159.05 L255.26,158.22 L255.56,157.20 L255.86,155.99 L256.15,154.59 L256.45,153.01 L256.75,151.26 L257.04,149.35 L257.34,147.27 L257.63,145.05 L257.93,142.69 L258.23,140.20 L258.52,137.58 L258.82,134.86 L259.12,132.04 L259.41,129.14 L259.71,126.16 L260.00,123.12 L260.30,120.04 L260.60,116.92 L260.89,113.77 L261.19,110.62 L261.49,107.47 L261.78,104.34 L262.08,101.23 L262.38,98.17 L262.67,95.17 L262.97,92.24 L263.26,89.38 L263.56,86.62 L263.86,83.96 L264.15,81.42 L264.45,79.01 L264.75,76.73 L265.04,74.59 L265.34,72.61 L265.63,70.79 L265.93,69.15 L266.23,67.68 L266.52,66.39 L266.82,65.29 L267.12,64.39 L267.41,63.68 L267.71,63.17 L268.00,62.87 L268.30,62.77" fill="none" stroke="#0000ff" stroke-width="2.3" stroke-linejoin="round"/><rect x="31.3" y="6.1200000000000045" width="237.0" height="180.4" stroke="#383838" stroke-width="1.7" fill="none"/><line x1="31.3" y1="24.16000000000001" x2="34.3" y2="24.16000000000001" stroke="#262626" stroke-width="1"/><line x1="268.3" y1="24.16000000000001" x2="265.3" y2="24.16000000000001" stroke="#262626" stroke-width="1"/><text x="29.6" y="29.06000000000001" font-size="14" text-anchor="end">6</text><line x1="31.3" y1="60.24000000000001" x2="34.3" y2="60.24000000000001" stroke="#262626" stroke-width="1"/><line x1="268.3" y1="60.24000000000001" x2="265.3" y2="60.24000000000001" stroke="#262626" stroke-width="1"/><text x="29.6" y="65.14000000000001" font-size="14" text-anchor="end">4</text><line x1="31.3" y1="96.32000000000001" x2="34.3" y2="96.32000000000001" stroke="#262626" stroke-width="1"/><line x1="268.3" y1="96.32000000000001" x2="265.3" y2="96.32000000000001" stroke="#262626" stroke-width="1"/><text x="29.6" y="101.22000000000001" font-size="14" text-anchor="end">2</text><line x1="31.3" y1="132.4" x2="34.3" y2="132.4" stroke="#262626" stroke-width="1"/><line x1="268.3" y1="132.4" x2="265.3" y2="132.4" stroke="#262626" stroke-width="1"/><text x="29.6" y="137.3" font-size="14" text-anchor="end">0</text><line x1="31.3" y1="168.48000000000002" x2="34.3" y2="168.48000000000002" stroke="#262626" stroke-width="1"/><line x1="268.3" y1="168.48000000000002" x2="265.3" y2="168.48000000000002" stroke="#262626" stroke-width="1"/><text x="29.6" y="173.38000000000002" font-size="14" text-anchor="end">-2</text><line x1="31.3" y1="186.52" x2="31.3" y2="183.52" stroke="#262626" stroke-width="1"/><line x1="31.3" y1="6.1200000000000045" x2="31.3" y2="9.120000000000005" stroke="#262626" stroke-width="1"/><text x="31.3" y="200.72" font-size="14" text-anchor="middle">0</text><line x1="90.55" y1="186.52" x2="90.55" y2="183.52" stroke="#262626" stroke-width="1"/><line x1="90.55" y1="6.1200000000000045" x2="90.55" y2="9.120000000000005" stroke="#262626" stroke-width="1"/><text x="90.55" y="200.72" font-size="14" text-anchor="middle">1</text><line x1="149.8" y1="186.52" x2="149.8" y2="183.52" stroke="#262626" stroke-width="1"/><line x1="149.8" y1="6.1200000000000045" x2="149.8" y2="9.120000000000005" stroke="#262626" stroke-width="1"/><text x="149.8" y="200.72" font-size="14" text-anchor="middle">2</text><line x1="209.05" y1="186.52" x2="209.05" y2="183.52" stroke="#262626" stroke-width="1"/><line x1="209.05" y1="6.1200000000000045" x2="209.05" y2="9.120000000000005" stroke="#262626" stroke-width="1"/><text x="209.05" y="200.72" font-size="14" text-anchor="middle">3</text><line x1="268.3" y1="186.52" x2="268.3" y2="183.52" stroke="#262626" stroke-width="1"/><line x1="268.3" y1="6.1200000000000045" x2="268.3" y2="9.120000000000005" stroke="#262626" stroke-width="1"/><text x="268.3" y="200.72" font-size="14" text-anchor="middle">4</text><text x="12.0" y="96.32000000000001" font-size="14.5" text-anchor="middle" transform="rotate(-90 12.0 96.32000000000001)">Thrust force(N)</text><text x="149.8" y="214.3" font-size="14.5" text-anchor="middle">Time(s)</text><text x="147" y="225.7" font-size="13" text-anchor="middle">(a)</text><rect x="205.6" y="8.6" width="59.79999999999998" height="44.8" fill="#fff" stroke="#262626" stroke-width="1.4"/><line x1="209" y1="16.6" x2="227" y2="16.6" stroke="#00ff00" stroke-width="2.2"/><text x="228.9" y="21.200000000000003" font-size="12" text-anchor="start">0.25Hz</text><line x1="209" y1="31.2" x2="227" y2="31.2" stroke="#ff0000" stroke-width="2.2"/><text x="228.9" y="35.8" font-size="12" text-anchor="start">0.5Hz</text><line x1="209" y1="45.8" x2="227" y2="45.8" stroke="#0000ff" stroke-width="2.2"/><text x="228.9" y="50.4" font-size="12" text-anchor="start">1Hz</text>
<line x1="335.9" y1="47.11" x2="560.1" y2="47.11" stroke="#a8a8a8" stroke-width="1.2"/><line x1="335.9" y1="88.94" x2="560.1" y2="88.94" stroke="#a8a8a8" stroke-width="1.2"/><line x1="335.9" y1="130.76999999999998" x2="560.1" y2="130.76999999999998" stroke="#a8a8a8" stroke-width="1.2"/><line x1="335.9" y1="172.6" x2="560.1" y2="172.6" stroke="#a8a8a8" stroke-width="1.2"/><line x1="358.9" y1="5.280000000000001" x2="358.9" y2="186.3" stroke="#808080" stroke-width="1.2"/><line x1="418.0" y1="5.280000000000001" x2="418.0" y2="186.3" stroke="#808080" stroke-width="1.2"/><line x1="477.4" y1="5.280000000000001" x2="477.4" y2="186.3" stroke="#808080" stroke-width="1.2"/><line x1="536.5" y1="5.280000000000001" x2="536.5" y2="186.3" stroke="#808080" stroke-width="1.2"/><path d="M358.90,171.35 L418.00,161.31 L536.50,124.29" fill="none" stroke="#ff0000" stroke-width="2.2" stroke-linejoin="round"/><circle cx="358.9" cy="171.3451" r="2.8" fill="#ff0000"/><circle cx="418.0" cy="161.3059" r="2.8" fill="#ff0000"/><line x1="536.5" y1="120.73079999999999" x2="536.5" y2="127.8419" stroke="#ff0000" stroke-width="2.6"/><line x1="534.2" y1="121.33079999999998" x2="538.8" y2="121.33079999999998" stroke="#ff0000" stroke-width="1.4"/><line x1="534.2" y1="127.2419" x2="538.8" y2="127.2419" stroke="#ff0000" stroke-width="1.4"/><circle cx="536.5" cy="124.28635" r="2.8" fill="#ff0000"/><path d="M358.90,18.69 L418.00,68.04 L536.50,73.48" fill="none" stroke="#0000ff" stroke-width="2.2" stroke-linejoin="round"/><circle cx="358.9" cy="18.692400000000006" r="2.1" fill="#0000ff"/><circle cx="418.0" cy="68.04" r="2.1" fill="#0000ff"/><circle cx="536.5" cy="73.4766" r="2.1" fill="#0000ff"/><rect x="335.9" y="5.280000000000001" width="224.20000000000005" height="181.02" stroke="#383838" stroke-width="1.7" fill="none"/><line x1="335.9" y1="5.280000000000001" x2="338.9" y2="5.280000000000001" stroke="#262626" stroke-width="1"/><text x="333.4" y="10.48" font-size="14" text-anchor="end">4</text><line x1="335.9" y1="47.11" x2="338.9" y2="47.11" stroke="#262626" stroke-width="1"/><text x="333.4" y="52.31" font-size="14" text-anchor="end">3</text><line x1="335.9" y1="88.94" x2="338.9" y2="88.94" stroke="#262626" stroke-width="1"/><text x="333.4" y="94.14" font-size="14" text-anchor="end">2</text><line x1="335.9" y1="130.76999999999998" x2="338.9" y2="130.76999999999998" stroke="#262626" stroke-width="1"/><text x="333.4" y="135.96999999999997" font-size="14" text-anchor="end">1</text><line x1="335.9" y1="172.6" x2="338.9" y2="172.6" stroke="#262626" stroke-width="1"/><text x="333.4" y="177.79999999999998" font-size="14" text-anchor="end">0</text><line x1="560.1" y1="5.310000000000002" x2="557.1" y2="5.310000000000002" stroke="#262626" stroke-width="1"/><text x="561.6" y="10.510000000000002" font-size="14" text-anchor="start">0.6</text><line x1="560.1" y1="47.13" x2="557.1" y2="47.13" stroke="#262626" stroke-width="1"/><text x="561.6" y="52.330000000000005" font-size="14" text-anchor="start">0.3</text><line x1="560.1" y1="88.95" x2="557.1" y2="88.95" stroke="#262626" stroke-width="1"/><text x="561.6" y="94.15" font-size="14" text-anchor="start">0</text><line x1="560.1" y1="130.77" x2="557.1" y2="130.77" stroke="#262626" stroke-width="1"/><text x="561.6" y="135.97" font-size="14" text-anchor="start">-0.3</text><line x1="560.1" y1="172.59" x2="557.1" y2="172.59" stroke="#262626" stroke-width="1"/><text x="561.6" y="177.79" font-size="14" text-anchor="start">-0.6</text><line x1="358.9" y1="186.3" x2="358.9" y2="183.3" stroke="#262626" stroke-width="1"/><line x1="358.9" y1="5.280000000000001" x2="358.9" y2="8.280000000000001" stroke="#262626" stroke-width="1"/><text x="358.9" y="200.5" font-size="14" text-anchor="middle">0.25</text><line x1="418.0" y1="186.3" x2="418.0" y2="183.3" stroke="#262626" stroke-width="1"/><line x1="418.0" y1="5.280000000000001" x2="418.0" y2="8.280000000000001" stroke="#262626" stroke-width="1"/><text x="418.0" y="200.5" font-size="14" text-anchor="middle">0.5</text><line x1="477.4" y1="186.3" x2="477.4" y2="183.3" stroke="#262626" stroke-width="1"/><line x1="477.4" y1="5.280000000000001" x2="477.4" y2="8.280000000000001" stroke="#262626" stroke-width="1"/><text x="477.4" y="200.5" font-size="14" text-anchor="middle">0.75</text><line x1="536.5" y1="186.3" x2="536.5" y2="183.3" stroke="#262626" stroke-width="1"/><line x1="536.5" y1="5.280000000000001" x2="536.5" y2="8.280000000000001" stroke="#262626" stroke-width="1"/><text x="536.5" y="200.5" font-size="14" text-anchor="middle">1</text><text x="320.8" y="95.3" font-size="14.5" text-anchor="middle" transform="rotate(-90 320.8 95.3)">Average thrust force(N)</text><text x="597" y="94.6" font-size="14.5" text-anchor="middle" transform="rotate(-90 597 94.6)">Efficiency</text><text x="448" y="214.6" font-size="14.5" text-anchor="middle">Frequency(Hz)</text><text x="445" y="229.6" font-size="13" text-anchor="middle">(b)</text><rect x="429.1" y="7.6" width="128.5" height="30.199999999999996" fill="#fff" stroke="#262626" stroke-width="1.4"/><line x1="432.6" y1="15.3" x2="451.4" y2="15.3" stroke="#ff0000" stroke-width="2"/><circle cx="442.0" cy="15.3" r="1.6" fill="#ff4040"/><line x1="432.6" y1="30.0" x2="451.4" y2="30.0" stroke="#0000ff" stroke-width="2"/><text x="454.1" y="19.9" font-size="12" text-anchor="start">Average thrust force</text><text x="454.1" y="34.6" font-size="12" text-anchor="start">Efficiency</text>
<line x1="30.5" y1="265.5" x2="267.4" y2="265.5" stroke="#858585" stroke-width="1.2"/><line x1="30.5" y1="283.6" x2="267.4" y2="283.6" stroke="#858585" stroke-width="1.2"/><line x1="30.5" y1="301.70000000000005" x2="267.4" y2="301.70000000000005" stroke="#858585" stroke-width="1.2"/><line x1="30.5" y1="319.8" x2="267.4" y2="319.8" stroke="#858585" stroke-width="1.2"/><line x1="30.5" y1="337.90000000000003" x2="267.4" y2="337.90000000000003" stroke="#858585" stroke-width="1.2"/><line x1="30.5" y1="356.0" x2="267.4" y2="356.0" stroke="#858585" stroke-width="1.2"/><line x1="30.5" y1="374.1" x2="267.4" y2="374.1" stroke="#858585" stroke-width="1.2"/><line x1="30.5" y1="392.20000000000005" x2="267.4" y2="392.20000000000005" stroke="#858585" stroke-width="1.2"/><line x1="30.5" y1="410.3" x2="267.4" y2="410.3" stroke="#858585" stroke-width="1.2"/><line x1="89.725" y1="247.4" x2="89.725" y2="428.40000000000003" stroke="#959595" stroke-width="1.2"/><line x1="148.95" y1="247.4" x2="148.95" y2="428.40000000000003" stroke="#959595" stroke-width="1.2"/><line x1="208.17499999999998" y1="247.4" x2="208.17499999999998" y2="428.40000000000003" stroke="#959595" stroke-width="1.2"/><path d="M30.50,353.83 L31.09,353.83 L31.68,353.85 L32.28,353.88 L32.87,353.92 L33.46,353.97 L34.05,354.04 L34.65,354.11 L35.24,354.20 L35.83,354.30 L36.42,354.41 L37.01,354.53 L37.61,354.66 L38.20,354.81 L38.79,354.96 L39.38,355.13 L39.98,355.30 L40.57,355.49 L41.16,355.69 L41.75,355.89 L42.34,356.11 L42.94,356.34 L43.53,356.57 L44.12,356.82 L44.71,357.08 L45.31,357.34 L45.90,357.61 L46.49,357.90 L47.08,358.19 L47.68,358.49 L48.27,358.79 L48.86,359.11 L49.45,359.43 L50.04,359.76 L50.64,360.09 L51.23,360.44 L51.82,360.78 L52.41,361.14 L53.01,361.50 L53.60,361.87 L54.19,362.24 L54.78,362.61 L55.37,363.00 L55.97,363.38 L56.56,363.77 L57.15,364.16 L57.74,364.56 L58.34,364.96 L58.93,365.36 L59.52,365.77 L60.11,366.17 L60.70,366.58 L61.30,366.99 L61.89,367.40 L62.48,367.81 L63.07,368.23 L63.67,368.64 L64.26,369.05 L64.85,369.46 L65.44,369.87 L66.03,370.28 L66.63,370.69 L67.22,371.09 L67.81,371.50 L68.40,371.90 L69.00,372.29 L69.59,372.69 L70.18,373.08 L70.77,373.47 L71.37,373.85 L71.96,374.23 L72.55,374.60 L73.14,374.97 L73.73,375.33 L74.33,375.69 L74.92,376.04 L75.51,376.39 L76.10,376.73 L76.70,377.06 L77.29,377.38 L77.88,377.70 L78.47,378.01 L79.06,378.31 L79.66,378.61 L80.25,378.89 L80.84,379.17 L81.43,379.44 L82.03,379.69 L82.62,379.94 L83.21,380.19 L83.80,380.42 L84.39,380.64 L84.99,380.85 L85.58,381.05 L86.17,381.24 L86.76,381.42 L87.36,381.59 L87.95,381.75 L88.54,381.90 L89.13,382.03 L89.72,382.16 L90.32,382.27 L90.91,382.38 L91.50,382.47 L92.09,382.55 L92.69,382.62 L93.28,382.67 L93.87,382.72 L94.46,382.75 L95.06,382.78 L95.65,382.79 L96.24,382.79 L96.83,382.77 L97.42,382.74 L98.02,382.70 L98.61,382.65 L99.20,382.59 L99.79,382.51 L100.39,382.42 L100.98,382.31 L101.57,382.20 L102.16,382.07 L102.75,381.93 L103.35,381.77 L103.94,381.61 L104.53,381.43 L105.12,381.25 L105.72,381.05 L106.31,380.84 L106.90,380.62 L107.49,380.38 L108.08,380.14 L108.68,379.89 L109.27,379.63 L109.86,379.35 L110.45,379.07 L111.05,378.78 L111.64,378.48 L112.23,378.18 L112.82,377.86 L113.41,377.54 L114.01,377.20 L114.60,376.87 L115.19,376.52 L115.78,376.17 L116.38,375.81 L116.97,375.45 L117.56,375.08 L118.15,374.70 L118.75,374.33 L119.34,373.94 L119.93,373.56 L120.52,373.17 L121.11,372.77 L121.71,372.38 L122.30,371.98 L122.89,371.58 L123.48,371.18 L124.08,370.78 L124.67,370.38 L125.26,369.98 L125.85,369.58 L126.44,369.17 L127.04,368.78 L127.63,368.38 L128.22,367.98 L128.81,367.59 L129.41,367.20 L130.00,366.81 L130.59,366.42 L131.18,366.04 L131.77,365.67 L132.37,365.30 L132.96,364.93 L133.55,364.57 L134.14,364.22 L134.74,363.87 L135.33,363.53 L135.92,363.19 L136.51,362.87 L137.10,362.55 L137.70,362.24 L138.29,361.93 L138.88,361.64 L139.47,361.35 L140.07,361.08 L140.66,360.81 L141.25,360.56 L141.84,360.31 L142.44,360.07 L143.03,359.85 L143.62,359.63 L144.21,359.43 L144.80,359.24 L145.40,359.06 L145.99,358.89 L146.58,358.73 L147.17,358.58 L147.77,358.45 L148.36,358.33 L148.95,358.22 L149.54,358.13 L150.13,358.04 L150.73,357.97 L151.32,357.91 L151.91,357.87 L152.50,357.84 L153.10,357.82 L153.69,357.81 L154.28,357.82 L154.87,357.84 L155.46,357.87 L156.06,357.91 L156.65,357.97 L157.24,358.04 L157.83,358.12 L158.43,358.21 L159.02,358.32 L159.61,358.43 L160.20,358.56 L160.79,358.70 L161.39,358.86 L161.98,359.02 L162.57,359.20 L163.16,359.39 L163.76,359.58 L164.35,359.79 L164.94,360.01 L165.53,360.25 L166.13,360.49 L166.72,360.74 L167.31,361.00 L167.90,361.27 L168.49,361.55 L169.09,361.84 L169.68,362.14 L170.27,362.44 L170.86,362.76 L171.46,363.08 L172.05,363.41 L172.64,363.75 L173.23,364.10 L173.82,364.45 L174.42,364.81 L175.01,365.17 L175.60,365.54 L176.19,365.92 L176.79,366.30 L177.38,366.69 L177.97,367.08 L178.56,367.47 L179.15,367.87 L179.75,368.27 L180.34,368.68 L180.93,369.09 L181.52,369.50 L182.12,369.91 L182.71,370.32 L183.30,370.74 L183.89,371.15 L184.48,371.57 L185.08,371.98 L185.67,372.40 L186.26,372.81 L186.85,373.22 L187.45,373.64 L188.04,374.05 L188.63,374.45 L189.22,374.86 L189.82,375.26 L190.41,375.66 L191.00,376.05 L191.59,376.44 L192.18,376.83 L192.78,377.21 L193.37,377.59 L193.96,377.96 L194.55,378.32 L195.15,378.68 L195.74,379.03 L196.33,379.38 L196.92,379.72 L197.51,380.05 L198.11,380.37 L198.70,380.69 L199.29,380.99 L199.88,381.29 L200.48,381.58 L201.07,381.86 L201.66,382.13 L202.25,382.39 L202.84,382.65 L203.44,382.89 L204.03,383.12 L204.62,383.34 L205.21,383.55 L205.81,383.75 L206.40,383.93 L206.99,384.11 L207.58,384.27 L208.17,384.43 L208.77,384.57 L209.36,384.70 L209.95,384.82 L210.54,384.92 L211.14,385.02 L211.73,385.10 L212.32,385.17 L212.91,385.22 L213.51,385.27 L214.10,385.30 L214.69,385.32 L215.28,385.32 L215.87,385.31 L216.47,385.28 L217.06,385.23 L217.65,385.17 L218.24,385.08 L218.84,384.97 L219.43,384.85 L220.02,384.71 L220.61,384.54 L221.20,384.36 L221.80,384.16 L222.39,383.95 L222.98,383.71 L223.57,383.46 L224.17,383.19 L224.76,382.91 L225.35,382.61 L225.94,382.29 L226.53,381.96 L227.13,381.61 L227.72,381.25 L228.31,380.87 L228.90,380.48 L229.50,380.07 L230.09,379.66 L230.68,379.23 L231.27,378.79 L231.86,378.34 L232.46,377.88 L233.05,377.40 L233.64,376.92 L234.23,376.43 L234.83,375.94 L235.42,375.43 L236.01,374.92 L236.60,374.40 L237.20,373.88 L237.79,373.35 L238.38,372.82 L238.97,372.28 L239.56,371.74 L240.16,371.20 L240.75,370.66 L241.34,370.12 L241.93,369.58 L242.53,369.03 L243.12,368.49 L243.71,367.95 L244.30,367.42 L244.89,366.89 L245.49,366.36 L246.08,365.83 L246.67,365.32 L247.26,364.80 L247.86,364.30 L248.45,363.80 L249.04,363.31 L249.63,362.83 L250.22,362.36 L250.82,361.90 L251.41,361.45 L252.00,361.01 L252.59,360.58 L253.19,360.16 L253.78,359.76 L254.37,359.37 L254.96,358.99 L255.55,358.63 L256.15,358.28 L256.74,357.95 L257.33,357.63 L257.92,357.33 L258.52,357.04 L259.11,356.77 L259.70,356.52 L260.29,356.29 L260.89,356.07 L261.48,355.87 L262.07,355.69 L262.66,355.53 L263.25,355.39 L263.85,355.26 L264.44,355.16 L265.03,355.07 L265.62,355.00 L266.22,354.95 L266.81,354.92 L267.40,354.91" fill="none" stroke="#ff0000" stroke-width="2.3" stroke-linejoin="round"/><path d="M30.50,333.56 L31.09,333.57 L31.68,333.60 L32.28,333.64 L32.87,333.71 L33.46,333.80 L34.05,333.91 L34.65,334.04 L35.24,334.18 L35.83,334.35 L36.42,334.53 L37.01,334.73 L37.61,334.96 L38.20,335.20 L38.79,335.45 L39.38,335.73 L39.98,336.02 L40.57,336.33 L41.16,336.66 L41.75,337.01 L42.34,337.37 L42.94,337.75 L43.53,338.14 L44.12,338.55 L44.71,338.97 L45.31,339.41 L45.90,339.86 L46.49,340.33 L47.08,340.81 L47.68,341.31 L48.27,341.81 L48.86,342.33 L49.45,342.86 L50.04,343.40 L50.64,343.95 L51.23,344.51 L51.82,345.09 L52.41,345.67 L53.01,346.26 L53.60,346.85 L54.19,347.46 L54.78,348.07 L55.37,348.69 L55.97,349.31 L56.56,349.94 L57.15,350.57 L57.74,351.21 L58.34,351.85 L58.93,352.50 L59.52,353.15 L60.11,353.79 L60.70,354.44 L61.30,355.10 L61.89,355.75 L62.48,356.40 L63.07,357.04 L63.67,357.69 L64.26,358.34 L64.85,358.98 L65.44,359.62 L66.03,360.25 L66.63,360.88 L67.22,361.50 L67.81,362.12 L68.40,362.73 L69.00,363.34 L69.59,363.93 L70.18,364.52 L70.77,365.10 L71.37,365.68 L71.96,366.24 L72.55,366.79 L73.14,367.33 L73.73,367.86 L74.33,368.38 L74.92,368.88 L75.51,369.38 L76.10,369.86 L76.70,370.33 L77.29,370.78 L77.88,371.22 L78.47,371.64 L79.06,372.05 L79.66,372.44 L80.25,372.82 L80.84,373.18 L81.43,373.53 L82.03,373.86 L82.62,374.17 L83.21,374.46 L83.80,374.74 L84.39,374.99 L84.99,375.23 L85.58,375.46 L86.17,375.66 L86.76,375.84 L87.36,376.01 L87.95,376.15 L88.54,376.28 L89.13,376.39 L89.72,376.48 L90.32,376.55 L90.91,376.59 L91.50,376.62 L92.09,376.63 L92.69,376.62 L93.28,376.59 L93.87,376.53 L94.46,376.45 L95.06,376.34 L95.65,376.21 L96.24,376.06 L96.83,375.89 L97.42,375.69 L98.02,375.48 L98.61,375.24 L99.20,374.97 L99.79,374.69 L100.39,374.38 L100.98,374.06 L101.57,373.71 L102.16,373.35 L102.75,372.96 L103.35,372.55 L103.94,372.13 L104.53,371.68 L105.12,371.22 L105.72,370.74 L106.31,370.25 L106.90,369.73 L107.49,369.20 L108.08,368.66 L108.68,368.10 L109.27,367.53 L109.86,366.94 L110.45,366.34 L111.05,365.73 L111.64,365.10 L112.23,364.47 L112.82,363.82 L113.41,363.17 L114.01,362.51 L114.60,361.83 L115.19,361.15 L115.78,360.47 L116.38,359.78 L116.97,359.08 L117.56,358.38 L118.15,357.67 L118.75,356.96 L119.34,356.25 L119.93,355.54 L120.52,354.82 L121.11,354.11 L121.71,353.40 L122.30,352.69 L122.89,351.98 L123.48,351.27 L124.08,350.57 L124.67,349.87 L125.26,349.18 L125.85,348.49 L126.44,347.81 L127.04,347.14 L127.63,346.48 L128.22,345.82 L128.81,345.18 L129.41,344.54 L130.00,343.92 L130.59,343.31 L131.18,342.71 L131.77,342.12 L132.37,341.55 L132.96,340.99 L133.55,340.44 L134.14,339.91 L134.74,339.40 L135.33,338.90 L135.92,338.43 L136.51,337.96 L137.10,337.52 L137.70,337.09 L138.29,336.69 L138.88,336.30 L139.47,335.94 L140.07,335.59 L140.66,335.26 L141.25,334.96 L141.84,334.67 L142.44,334.41 L143.03,334.17 L143.62,333.95 L144.21,333.76 L144.80,333.58 L145.40,333.43 L145.99,333.30 L146.58,333.20 L147.17,333.12 L147.77,333.06 L148.36,333.02 L148.95,333.01 L149.54,333.02 L150.13,333.05 L150.73,333.11 L151.32,333.18 L151.91,333.27 L152.50,333.39 L153.10,333.52 L153.69,333.68 L154.28,333.85 L154.87,334.05 L155.46,334.26 L156.06,334.50 L156.65,334.75 L157.24,335.03 L157.83,335.32 L158.43,335.63 L159.02,335.96 L159.61,336.31 L160.20,336.68 L160.79,337.06 L161.39,337.46 L161.98,337.88 L162.57,338.32 L163.16,338.77 L163.76,339.24 L164.35,339.72 L164.94,340.22 L165.53,340.74 L166.13,341.26 L166.72,341.81 L167.31,342.36 L167.90,342.93 L168.49,343.51 L169.09,344.10 L169.68,344.71 L170.27,345.32 L170.86,345.95 L171.46,346.58 L172.05,347.23 L172.64,347.88 L173.23,348.54 L173.82,349.21 L174.42,349.89 L175.01,350.57 L175.60,351.26 L176.19,351.95 L176.79,352.65 L177.38,353.35 L177.97,354.06 L178.56,354.77 L179.15,355.48 L179.75,356.20 L180.34,356.91 L180.93,357.63 L181.52,358.34 L182.12,359.06 L182.71,359.77 L183.30,360.49 L183.89,361.20 L184.48,361.90 L185.08,362.61 L185.67,363.31 L186.26,364.00 L186.85,364.69 L187.45,365.37 L188.04,366.05 L188.63,366.72 L189.22,367.38 L189.82,368.03 L190.41,368.68 L191.00,369.31 L191.59,369.94 L192.18,370.55 L192.78,371.16 L193.37,371.75 L193.96,372.33 L194.55,372.90 L195.15,373.45 L195.74,373.99 L196.33,374.52 L196.92,375.04 L197.51,375.53 L198.11,376.02 L198.70,376.49 L199.29,376.94 L199.88,377.37 L200.48,377.79 L201.07,378.20 L201.66,378.58 L202.25,378.95 L202.84,379.30 L203.44,379.63 L204.03,379.94 L204.62,380.23 L205.21,380.51 L205.81,380.76 L206.40,381.00 L206.99,381.21 L207.58,381.41 L208.17,381.58 L208.77,381.74 L209.36,381.87 L209.95,381.99 L210.54,382.08 L211.14,382.15 L211.73,382.20 L212.32,382.23 L212.91,382.25 L213.51,382.23 L214.10,382.19 L214.69,382.13 L215.28,382.03 L215.87,381.91 L216.47,381.77 L217.06,381.60 L217.65,381.40 L218.24,381.18 L218.84,380.93 L219.43,380.65 L220.02,380.36 L220.61,380.03 L221.20,379.69 L221.80,379.32 L222.39,378.92 L222.98,378.51 L223.57,378.07 L224.17,377.61 L224.76,377.13 L225.35,376.63 L225.94,376.11 L226.53,375.57 L227.13,375.01 L227.72,374.43 L228.31,373.83 L228.90,373.22 L229.50,372.59 L230.09,371.95 L230.68,371.29 L231.27,370.62 L231.86,369.93 L232.46,369.23 L233.05,368.52 L233.64,367.81 L234.23,367.08 L234.83,366.34 L235.42,365.59 L236.01,364.84 L236.60,364.08 L237.20,363.31 L237.79,362.54 L238.38,361.77 L238.97,361.00 L239.56,360.22 L240.16,359.44 L240.75,358.66 L241.34,357.88 L241.93,357.11 L242.53,356.33 L243.12,355.56 L243.71,354.80 L244.30,354.04 L244.89,353.29 L245.49,352.54 L246.08,351.80 L246.67,351.07 L247.26,350.35 L247.86,349.64 L248.45,348.95 L249.04,348.26 L249.63,347.59 L250.22,346.93 L250.82,346.29 L251.41,345.66 L252.00,345.05 L252.59,344.45 L253.19,343.87 L253.78,343.31 L254.37,342.77 L254.96,342.25 L255.55,341.75 L256.15,341.27 L256.74,340.81 L257.33,340.37 L257.92,339.95 L258.52,339.56 L259.11,339.19 L259.70,338.84 L260.29,338.52 L260.89,338.22 L261.48,337.95 L262.07,337.70 L262.66,337.48 L263.25,337.28 L263.85,337.11 L264.44,336.96 L265.03,336.85 L265.62,336.75 L266.22,336.69 L266.81,336.65 L267.40,336.63" fill="none" stroke="#00ff00" stroke-width="2.3" stroke-linejoin="round"/><path d="M30.50,323.96 L31.09,323.98 L31.68,324.02 L32.28,324.08 L32.87,324.18 L33.46,324.30 L34.05,324.45 L34.65,324.62 L35.24,324.82 L35.83,325.05 L36.42,325.31 L37.01,325.59 L37.61,325.89 L38.20,326.22 L38.79,326.58 L39.38,326.96 L39.98,327.36 L40.57,327.79 L41.16,328.24 L41.75,328.72 L42.34,329.22 L42.94,329.74 L43.53,330.29 L44.12,330.85 L44.71,331.44 L45.31,332.04 L45.90,332.67 L46.49,333.32 L47.08,333.98 L47.68,334.67 L48.27,335.37 L48.86,336.09 L49.45,336.83 L50.04,337.58 L50.64,338.35 L51.23,339.13 L51.82,339.92 L52.41,340.73 L53.01,341.56 L53.60,342.39 L54.19,343.23 L54.78,344.09 L55.37,344.96 L55.97,345.83 L56.56,346.71 L57.15,347.60 L57.74,348.50 L58.34,349.40 L58.93,350.31 L59.52,351.22 L60.11,352.14 L60.70,353.06 L61.30,353.98 L61.89,354.90 L62.48,355.83 L63.07,356.75 L63.67,357.67 L64.26,358.59 L64.85,359.51 L65.44,360.42 L66.03,361.33 L66.63,362.23 L67.22,363.13 L67.81,364.02 L68.40,364.91 L69.00,365.78 L69.59,366.65 L70.18,367.51 L70.77,368.36 L71.37,369.19 L71.96,370.02 L72.55,370.83 L73.14,371.63 L73.73,372.41 L74.33,373.18 L74.92,373.94 L75.51,374.68 L76.10,375.40 L76.70,376.11 L77.29,376.79 L77.88,377.46 L78.47,378.11 L79.06,378.75 L79.66,379.36 L80.25,379.95 L80.84,380.52 L81.43,381.07 L82.03,381.59 L82.62,382.10 L83.21,382.58 L83.80,383.03 L84.39,383.47 L84.99,383.88 L85.58,384.26 L86.17,384.62 L86.76,384.96 L87.36,385.27 L87.95,385.55 L88.54,385.81 L89.13,386.05 L89.72,386.25 L90.32,386.43 L90.91,386.59 L91.50,386.71 L92.09,386.81 L92.69,386.89 L93.28,386.93 L93.87,386.95 L94.46,386.94 L95.06,386.90 L95.65,386.83 L96.24,386.72 L96.83,386.59 L97.42,386.42 L98.02,386.22 L98.61,386.00 L99.20,385.74 L99.79,385.45 L100.39,385.13 L100.98,384.78 L101.57,384.40 L102.16,384.00 L102.75,383.56 L103.35,383.10 L103.94,382.61 L104.53,382.09 L105.12,381.55 L105.72,380.98 L106.31,380.38 L106.90,379.76 L107.49,379.12 L108.08,378.45 L108.68,377.76 L109.27,377.05 L109.86,376.32 L110.45,375.56 L111.05,374.79 L111.64,374.00 L112.23,373.19 L112.82,372.36 L113.41,371.52 L114.01,370.66 L114.60,369.79 L115.19,368.91 L115.78,368.01 L116.38,367.10 L116.97,366.18 L117.56,365.25 L118.15,364.31 L118.75,363.36 L119.34,362.41 L119.93,361.45 L120.52,360.49 L121.11,359.52 L121.71,358.55 L122.30,357.58 L122.89,356.61 L123.48,355.63 L124.08,354.66 L124.67,353.70 L125.26,352.73 L125.85,351.77 L126.44,350.82 L127.04,349.87 L127.63,348.93 L128.22,348.00 L128.81,347.08 L129.41,346.16 L130.00,345.26 L130.59,344.37 L131.18,343.50 L131.77,342.64 L132.37,341.79 L132.96,340.96 L133.55,340.15 L134.14,339.36 L134.74,338.58 L135.33,337.82 L135.92,337.09 L136.51,336.37 L137.10,335.68 L137.70,335.01 L138.29,334.36 L138.88,333.73 L139.47,333.13 L140.07,332.56 L140.66,332.01 L141.25,331.48 L141.84,330.99 L142.44,330.52 L143.03,330.08 L143.62,329.67 L144.21,329.28 L144.80,328.93 L145.40,328.60 L145.99,328.31 L146.58,328.04 L147.17,327.81 L147.77,327.61 L148.36,327.43 L148.95,327.29 L149.54,327.18 L150.13,327.10 L150.73,327.06 L151.32,327.04 L151.91,327.05 L152.50,327.09 L153.10,327.16 L153.69,327.26 L154.28,327.38 L154.87,327.53 L155.46,327.71 L156.06,327.92 L156.65,328.15 L157.24,328.40 L157.83,328.69 L158.43,329.00 L159.02,329.33 L159.61,329.70 L160.20,330.08 L160.79,330.49 L161.39,330.93 L161.98,331.39 L162.57,331.87 L163.16,332.37 L163.76,332.90 L164.35,333.45 L164.94,334.03 L165.53,334.62 L166.13,335.23 L166.72,335.87 L167.31,336.52 L167.90,337.19 L168.49,337.88 L169.09,338.59 L169.68,339.32 L170.27,340.06 L170.86,340.81 L171.46,341.59 L172.05,342.37 L172.64,343.17 L173.23,343.98 L173.82,344.81 L174.42,345.64 L175.01,346.49 L175.60,347.35 L176.19,348.21 L176.79,349.08 L177.38,349.96 L177.97,350.85 L178.56,351.74 L179.15,352.64 L179.75,353.54 L180.34,354.45 L180.93,355.36 L181.52,356.27 L182.12,357.18 L182.71,358.09 L183.30,359.00 L183.89,359.90 L184.48,360.81 L185.08,361.71 L185.67,362.61 L186.26,363.50 L186.85,364.39 L187.45,365.27 L188.04,366.14 L188.63,367.01 L189.22,367.86 L189.82,368.71 L190.41,369.54 L191.00,370.37 L191.59,371.18 L192.18,371.98 L192.78,372.77 L193.37,373.54 L193.96,374.30 L194.55,375.04 L195.15,375.76 L195.74,376.47 L196.33,377.16 L196.92,377.83 L197.51,378.49 L198.11,379.12 L198.70,379.73 L199.29,380.33 L199.88,380.90 L200.48,381.45 L201.07,381.98 L201.66,382.48 L202.25,382.97 L202.84,383.43 L203.44,383.86 L204.03,384.27 L204.62,384.66 L205.21,385.02 L205.81,385.35 L206.40,385.66 L206.99,385.95 L207.58,386.21 L208.17,386.44 L208.77,386.64 L209.36,386.82 L209.95,386.97 L210.54,387.09 L211.14,387.19 L211.73,387.26 L212.32,387.30 L212.91,387.31 L213.51,387.30 L214.10,387.24 L214.69,387.16 L215.28,387.03 L215.87,386.88 L216.47,386.69 L217.06,386.46 L217.65,386.21 L218.24,385.91 L218.84,385.59 L219.43,385.23 L220.02,384.84 L220.61,384.42 L221.20,383.96 L221.80,383.48 L222.39,382.97 L222.98,382.42 L223.57,381.85 L224.17,381.24 L224.76,380.61 L225.35,379.96 L225.94,379.27 L226.53,378.57 L227.13,377.83 L227.72,377.08 L228.31,376.30 L228.90,375.49 L229.50,374.67 L230.09,373.83 L230.68,372.97 L231.27,372.09 L231.86,371.19 L232.46,370.27 L233.05,369.35 L233.64,368.40 L234.23,367.45 L234.83,366.48 L235.42,365.51 L236.01,364.52 L236.60,363.52 L237.20,362.52 L237.79,361.51 L238.38,360.50 L238.97,359.49 L239.56,358.47 L240.16,357.45 L240.75,356.43 L241.34,355.41 L241.93,354.39 L242.53,353.38 L243.12,352.37 L243.71,351.37 L244.30,350.38 L244.89,349.39 L245.49,348.41 L246.08,347.45 L246.67,346.49 L247.26,345.55 L247.86,344.62 L248.45,343.71 L249.04,342.81 L249.63,341.93 L250.22,341.07 L250.82,340.23 L251.41,339.40 L252.00,338.60 L252.59,337.82 L253.19,337.06 L253.78,336.33 L254.37,335.62 L254.96,334.94 L255.55,334.28 L256.15,333.65 L256.74,333.05 L257.33,332.48 L257.92,331.93 L258.52,331.42 L259.11,330.93 L259.70,330.48 L260.29,330.06 L260.89,329.67 L261.48,329.31 L262.07,328.98 L262.66,328.69 L263.25,328.43 L263.85,328.21 L264.44,328.02 L265.03,327.86 L265.62,327.74 L266.22,327.65 L266.81,327.60 L267.40,327.58" fill="none" stroke="#00ffff" stroke-width="2.3" stroke-linejoin="round"/><path d="M30.50,303.87 L31.09,303.89 L31.68,303.96 L32.28,304.07 L32.87,304.23 L33.46,304.44 L34.05,304.68 L34.65,304.97 L35.24,305.31 L35.83,305.69 L36.42,306.11 L37.01,306.58 L37.61,307.09 L38.20,307.64 L38.79,308.23 L39.38,308.86 L39.98,309.53 L40.57,310.25 L41.16,311.00 L41.75,311.79 L42.34,312.62 L42.94,313.49 L43.53,314.39 L44.12,315.33 L44.71,316.30 L45.31,317.30 L45.90,318.34 L46.49,319.41 L47.08,320.51 L47.68,321.64 L48.27,322.80 L48.86,323.98 L49.45,325.20 L50.04,326.43 L50.64,327.70 L51.23,328.98 L51.82,330.29 L52.41,331.61 L53.01,332.96 L53.60,334.32 L54.19,335.70 L54.78,337.10 L55.37,338.51 L55.97,339.93 L56.56,341.36 L57.15,342.81 L57.74,344.26 L58.34,345.72 L58.93,347.19 L59.52,348.66 L60.11,350.13 L60.70,351.61 L61.30,353.09 L61.89,354.56 L62.48,356.03 L63.07,357.51 L63.67,358.97 L64.26,360.43 L64.85,361.88 L65.44,363.32 L66.03,364.75 L66.63,366.17 L67.22,367.58 L67.81,368.97 L68.40,370.35 L69.00,371.71 L69.59,373.05 L70.18,374.38 L70.77,375.68 L71.37,376.96 L71.96,378.21 L72.55,379.45 L73.14,380.65 L73.73,381.83 L74.33,382.99 L74.92,384.11 L75.51,385.20 L76.10,386.27 L76.70,387.30 L77.29,388.30 L77.88,389.26 L78.47,390.19 L79.06,391.09 L79.66,391.95 L80.25,392.77 L80.84,393.55 L81.43,394.30 L82.03,395.00 L82.62,395.67 L83.21,396.29 L83.80,396.88 L84.39,397.42 L84.99,397.92 L85.58,398.37 L86.17,398.79 L86.76,399.16 L87.36,399.49 L87.95,399.77 L88.54,400.01 L89.13,400.20 L89.72,400.35 L90.32,400.45 L90.91,400.51 L91.50,400.53 L92.09,400.49 L92.69,400.41 L93.28,400.28 L93.87,400.10 L94.46,399.88 L95.06,399.60 L95.65,399.28 L96.24,398.92 L96.83,398.50 L97.42,398.05 L98.02,397.54 L98.61,396.99 L99.20,396.40 L99.79,395.76 L100.39,395.08 L100.98,394.35 L101.57,393.58 L102.16,392.78 L102.75,391.93 L103.35,391.04 L103.94,390.12 L104.53,389.15 L105.12,388.15 L105.72,387.12 L106.31,386.05 L106.90,384.94 L107.49,383.80 L108.08,382.64 L108.68,381.44 L109.27,380.21 L109.86,378.96 L110.45,377.67 L111.05,376.37 L111.64,375.04 L112.23,373.68 L112.82,372.31 L113.41,370.92 L114.01,369.50 L114.60,368.07 L115.19,366.63 L115.78,365.17 L116.38,363.70 L116.97,362.22 L117.56,360.72 L118.15,359.22 L118.75,357.72 L119.34,356.20 L119.93,354.69 L120.52,353.17 L121.11,351.65 L121.71,350.13 L122.30,348.62 L122.89,347.10 L123.48,345.60 L124.08,344.10 L124.67,342.61 L125.26,341.13 L125.85,339.66 L126.44,338.20 L127.04,336.76 L127.63,335.33 L128.22,333.93 L128.81,332.54 L129.41,331.17 L130.00,329.82 L130.59,328.49 L131.18,327.19 L131.77,325.91 L132.37,324.66 L132.96,323.44 L133.55,322.25 L134.14,321.09 L134.74,319.96 L135.33,318.86 L135.92,317.80 L136.51,316.77 L137.10,315.77 L137.70,314.82 L138.29,313.90 L138.88,313.02 L139.47,312.18 L140.07,311.38 L140.66,310.62 L141.25,309.91 L141.84,309.23 L142.44,308.60 L143.03,308.02 L143.62,307.48 L144.21,306.98 L144.80,306.53 L145.40,306.13 L145.99,305.77 L146.58,305.46 L147.17,305.20 L147.77,304.98 L148.36,304.81 L148.95,304.69 L149.54,304.62 L150.13,304.60 L150.73,304.62 L151.32,304.69 L151.91,304.80 L152.50,304.95 L153.10,305.15 L153.69,305.40 L154.28,305.68 L154.87,306.01 L155.46,306.39 L156.06,306.81 L156.65,307.26 L157.24,307.77 L157.83,308.31 L158.43,308.89 L159.02,309.52 L159.61,310.18 L160.20,310.89 L160.79,311.63 L161.39,312.41 L161.98,313.23 L162.57,314.09 L163.16,314.98 L163.76,315.90 L164.35,316.86 L164.94,317.86 L165.53,318.88 L166.13,319.94 L166.72,321.03 L167.31,322.14 L167.90,323.29 L168.49,324.46 L169.09,325.66 L169.68,326.88 L170.27,328.13 L170.86,329.40 L171.46,330.69 L172.05,332.01 L172.64,333.34 L173.23,334.69 L173.82,336.06 L174.42,337.44 L175.01,338.84 L175.60,340.25 L176.19,341.67 L176.79,343.10 L177.38,344.54 L177.97,345.99 L178.56,347.45 L179.15,348.91 L179.75,350.37 L180.34,351.84 L180.93,353.31 L181.52,354.77 L182.12,356.24 L182.71,357.70 L183.30,359.16 L183.89,360.62 L184.48,362.06 L185.08,363.50 L185.67,364.93 L186.26,366.35 L186.85,367.75 L187.45,369.14 L188.04,370.52 L188.63,371.88 L189.22,373.22 L189.82,374.55 L190.41,375.85 L191.00,377.14 L191.59,378.40 L192.18,379.64 L192.78,380.85 L193.37,382.04 L193.96,383.20 L194.55,384.34 L195.15,385.44 L195.74,386.52 L196.33,387.56 L196.92,388.57 L197.51,389.55 L198.11,390.50 L198.70,391.41 L199.29,392.29 L199.88,393.13 L200.48,393.93 L201.07,394.70 L201.66,395.43 L202.25,396.11 L202.84,396.76 L203.44,397.37 L204.03,397.94 L204.62,398.47 L205.21,398.95 L205.81,399.39 L206.40,399.79 L206.99,400.15 L207.58,400.46 L208.17,400.73 L208.77,400.96 L209.36,401.14 L209.95,401.28 L210.54,401.37 L211.14,401.42 L211.73,401.43 L212.32,401.38 L212.91,401.28 L213.51,401.13 L214.10,400.92 L214.69,400.66 L215.28,400.35 L215.87,399.99 L216.47,399.58 L217.06,399.12 L217.65,398.60 L218.24,398.04 L218.84,397.43 L219.43,396.77 L220.02,396.06 L220.61,395.30 L221.20,394.50 L221.80,393.66 L222.39,392.77 L222.98,391.83 L223.57,390.86 L224.17,389.84 L224.76,388.78 L225.35,387.69 L225.94,386.55 L226.53,385.38 L227.13,384.18 L227.72,382.94 L228.31,381.67 L228.90,380.37 L229.50,379.04 L230.09,377.68 L230.68,376.29 L231.27,374.88 L231.86,373.45 L232.46,371.99 L233.05,370.51 L233.64,369.02 L234.23,367.51 L234.83,365.98 L235.42,364.44 L236.01,362.89 L236.60,361.32 L237.20,359.75 L237.79,358.18 L238.38,356.59 L238.97,355.01 L239.56,353.42 L240.16,351.83 L240.75,350.25 L241.34,348.67 L241.93,347.09 L242.53,345.53 L243.12,343.97 L243.71,342.42 L244.30,340.88 L244.89,339.36 L245.49,337.86 L246.08,336.37 L246.67,334.90 L247.26,333.45 L247.86,332.03 L248.45,330.63 L249.04,329.25 L249.63,327.90 L250.22,326.58 L250.82,325.29 L251.41,324.04 L252.00,322.81 L252.59,321.62 L253.19,320.47 L253.78,319.35 L254.37,318.27 L254.96,317.22 L255.55,316.22 L256.15,315.26 L256.74,314.35 L257.33,313.48 L257.92,312.65 L258.52,311.86 L259.11,311.13 L259.70,310.44 L260.29,309.80 L260.89,309.20 L261.48,308.66 L262.07,308.17 L262.66,307.72 L263.25,307.33 L263.85,306.99 L264.44,306.70 L265.03,306.47 L265.62,306.28 L266.22,306.15 L266.81,306.07 L267.40,306.04" fill="none" stroke="#0000ff" stroke-width="2.3" stroke-linejoin="round"/><rect x="30.5" y="247.4" width="236.89999999999998" height="181.00000000000003" stroke="#383838" stroke-width="1.7" fill="none"/><line x1="30.5" y1="265.5" x2="33.5" y2="265.5" stroke="#262626" stroke-width="1"/><line x1="267.4" y1="265.5" x2="264.4" y2="265.5" stroke="#262626" stroke-width="1"/><line x1="30.5" y1="283.6" x2="33.5" y2="283.6" stroke="#262626" stroke-width="1"/><line x1="267.4" y1="283.6" x2="264.4" y2="283.6" stroke="#262626" stroke-width="1"/><line x1="30.5" y1="301.70000000000005" x2="33.5" y2="301.70000000000005" stroke="#262626" stroke-width="1"/><line x1="267.4" y1="301.70000000000005" x2="264.4" y2="301.70000000000005" stroke="#262626" stroke-width="1"/><line x1="30.5" y1="319.8" x2="33.5" y2="319.8" stroke="#262626" stroke-width="1"/><line x1="267.4" y1="319.8" x2="264.4" y2="319.8" stroke="#262626" stroke-width="1"/><line x1="30.5" y1="337.90000000000003" x2="33.5" y2="337.90000000000003" stroke="#262626" stroke-width="1"/><line x1="267.4" y1="337.90000000000003" x2="264.4" y2="337.90000000000003" stroke="#262626" stroke-width="1"/><line x1="30.5" y1="356.0" x2="33.5" y2="356.0" stroke="#262626" stroke-width="1"/><line x1="267.4" y1="356.0" x2="264.4" y2="356.0" stroke="#262626" stroke-width="1"/><line x1="30.5" y1="374.1" x2="33.5" y2="374.1" stroke="#262626" stroke-width="1"/><line x1="267.4" y1="374.1" x2="264.4" y2="374.1" stroke="#262626" stroke-width="1"/><line x1="30.5" y1="392.20000000000005" x2="33.5" y2="392.20000000000005" stroke="#262626" stroke-width="1"/><line x1="267.4" y1="392.20000000000005" x2="264.4" y2="392.20000000000005" stroke="#262626" stroke-width="1"/><line x1="30.5" y1="410.3" x2="33.5" y2="410.3" stroke="#262626" stroke-width="1"/><line x1="267.4" y1="410.3" x2="264.4" y2="410.3" stroke="#262626" stroke-width="1"/><text x="28.8" y="270.4" font-size="14" text-anchor="end">6</text><text x="28.8" y="306.6" font-size="14" text-anchor="end">4</text><text x="28.8" y="342.8" font-size="14" text-anchor="end">2</text><text x="28.8" y="379.0" font-size="14" text-anchor="end">0</text><text x="28.8" y="415.2" font-size="14" text-anchor="end">-2</text><line x1="30.5" y1="428.40000000000003" x2="30.5" y2="425.40000000000003" stroke="#262626" stroke-width="1"/><line x1="30.5" y1="247.4" x2="30.5" y2="250.4" stroke="#262626" stroke-width="1"/><text x="30.5" y="442.6" font-size="14" text-anchor="middle">0</text><line x1="89.725" y1="428.40000000000003" x2="89.725" y2="425.40000000000003" stroke="#262626" stroke-width="1"/><line x1="89.725" y1="247.4" x2="89.725" y2="250.4" stroke="#262626" stroke-width="1"/><text x="89.725" y="442.6" font-size="14" text-anchor="middle">0.25</text><line x1="148.95" y1="428.40000000000003" x2="148.95" y2="425.40000000000003" stroke="#262626" stroke-width="1"/><line x1="148.95" y1="247.4" x2="148.95" y2="250.4" stroke="#262626" stroke-width="1"/><text x="148.95" y="442.6" font-size="14" text-anchor="middle">0.5</text><line x1="208.17499999999998" y1="428.40000000000003" x2="208.17499999999998" y2="425.40000000000003" stroke="#262626" stroke-width="1"/><line x1="208.17499999999998" y1="247.4" x2="208.17499999999998" y2="250.4" stroke="#262626" stroke-width="1"/><text x="208.17499999999998" y="442.6" font-size="14" text-anchor="middle">0.75</text><line x1="267.4" y1="428.40000000000003" x2="267.4" y2="425.40000000000003" stroke="#262626" stroke-width="1"/><line x1="267.4" y1="247.4" x2="267.4" y2="250.4" stroke="#262626" stroke-width="1"/><text x="267.4" y="442.6" font-size="14" text-anchor="middle">1</text><text x="12" y="335.40000000000003" font-size="14.5" text-anchor="middle" transform="rotate(-90 12 335.40000000000003)">Thrust force(N)</text><text x="148.5" y="456.6" font-size="14.5" text-anchor="middle">Time(s)</text><text x="141.5" y="479.7" font-size="13" text-anchor="middle">(c)</text><rect x="217.4" y="249.3" width="41.400000000000006" height="58.80000000000001" fill="#fff" stroke="#262626" stroke-width="1.4"/><line x1="220.7" y1="256.9" x2="238.1" y2="256.9" stroke="#ff0000" stroke-width="2.2"/><text x="240.9" y="261.5" font-size="12" text-anchor="start">15&#176;</text><line x1="220.7" y1="271.5" x2="238.1" y2="271.5" stroke="#00ff00" stroke-width="2.2"/><text x="240.9" y="276.1" font-size="12" text-anchor="start">20&#176;</text><line x1="220.7" y1="285.8" x2="238.1" y2="285.8" stroke="#00ffff" stroke-width="2.2"/><text x="240.9" y="290.40000000000003" font-size="12" text-anchor="start">25&#176;</text><line x1="220.7" y1="300.2" x2="238.1" y2="300.2" stroke="#0000ff" stroke-width="2.2"/><text x="240.9" y="304.8" font-size="12" text-anchor="start">30&#176;</text>
<line x1="335.5" y1="291.875" x2="560.1" y2="291.875" stroke="#888888" stroke-width="1.2"/><line x1="335.5" y1="333.75" x2="560.1" y2="333.75" stroke="#888888" stroke-width="1.2"/><line x1="335.5" y1="375.625" x2="560.1" y2="375.625" stroke="#888888" stroke-width="1.2"/><line x1="335.5" y1="417.5" x2="560.1" y2="417.5" stroke="#888888" stroke-width="1.2"/><line x1="363.2" y1="250.0" x2="363.2" y2="431.5" stroke="#a0a0a0" stroke-width="1.2"/><line x1="419.5" y1="250.0" x2="419.5" y2="431.5" stroke="#a0a0a0" stroke-width="1.2"/><line x1="475.7" y1="250.0" x2="475.7" y2="431.5" stroke="#a0a0a0" stroke-width="1.2"/><line x1="532.2" y1="250.0" x2="532.2" y2="431.5" stroke="#a0a0a0" stroke-width="1.2"/><path d="M363.20,402.01 L419.50,381.91 L475.70,378.56 L532.20,369.34" fill="none" stroke="#ff0000" stroke-width="2.2" stroke-linejoin="round"/><circle cx="363.2" cy="402.00625" r="2.8" fill="#ff0000"/><line x1="419.5" y1="379.39375" x2="419.5" y2="384.41875" stroke="#ff0000" stroke-width="2.6"/><line x1="417.2" y1="379.99375000000003" x2="421.8" y2="379.99375000000003" stroke="#ff0000" stroke-width="1.4"/><line x1="417.2" y1="383.81874999999997" x2="421.8" y2="383.81874999999997" stroke="#ff0000" stroke-width="1.4"/><circle cx="419.5" cy="381.90625" r="2.8" fill="#ff0000"/><line x1="475.7" y1="376.671875" x2="475.7" y2="380.440625" stroke="#ff0000" stroke-width="2.6"/><line x1="473.4" y1="377.271875" x2="478.0" y2="377.271875" stroke="#ff0000" stroke-width="1.4"/><line x1="473.4" y1="379.840625" x2="478.0" y2="379.840625" stroke="#ff0000" stroke-width="1.4"/><circle cx="475.7" cy="378.55625" r="2.8" fill="#ff0000"/><line x1="532.2" y1="365.784375" x2="532.2" y2="372.903125" stroke="#ff0000" stroke-width="2.6"/><line x1="529.9000000000001" y1="366.38437500000003" x2="534.5" y2="366.38437500000003" stroke="#ff0000" stroke-width="1.4"/><line x1="529.9000000000001" y1="372.30312499999997" x2="534.5" y2="372.30312499999997" stroke="#ff0000" stroke-width="1.4"/><circle cx="532.2" cy="369.34375" r="2.8" fill="#ff0000"/><path d="M363.20,314.77 L419.50,308.21 L475.70,315.74 L532.20,317.98" fill="none" stroke="#0000ff" stroke-width="2.2" stroke-linejoin="round"/><circle cx="363.2" cy="314.76712" r="2.1" fill="#0000ff"/><circle cx="419.5" cy="308.20686" r="2.1" fill="#0000ff"/><circle cx="475.7" cy="315.74418" r="2.1" fill="#0000ff"/><circle cx="532.2" cy="317.97746" r="2.1" fill="#0000ff"/><rect x="335.5" y="250.0" width="224.60000000000002" height="181.5" stroke="#383838" stroke-width="1.7" fill="none"/><line x1="335.5" y1="250.0" x2="338.5" y2="250.0" stroke="#262626" stroke-width="1"/><text x="333.0" y="255.2" font-size="14" text-anchor="end">4</text><line x1="335.5" y1="291.875" x2="338.5" y2="291.875" stroke="#262626" stroke-width="1"/><text x="333.0" y="297.075" font-size="14" text-anchor="end">3</text><line x1="335.5" y1="333.75" x2="338.5" y2="333.75" stroke="#262626" stroke-width="1"/><text x="333.0" y="338.95" font-size="14" text-anchor="end">2</text><line x1="335.5" y1="375.625" x2="338.5" y2="375.625" stroke="#262626" stroke-width="1"/><text x="333.0" y="380.825" font-size="14" text-anchor="end">1</text><line x1="335.5" y1="417.5" x2="338.5" y2="417.5" stroke="#262626" stroke-width="1"/><text x="333.0" y="422.7" font-size="14" text-anchor="end">0</text><line x1="560.1" y1="250.002" x2="557.1" y2="250.002" stroke="#262626" stroke-width="1"/><text x="561.6" y="255.202" font-size="14" text-anchor="start">0.6</text><line x1="560.1" y1="291.876" x2="557.1" y2="291.876" stroke="#262626" stroke-width="1"/><text x="561.6" y="297.07599999999996" font-size="14" text-anchor="start">0.3</text><line x1="560.1" y1="333.75" x2="557.1" y2="333.75" stroke="#262626" stroke-width="1"/><text x="561.6" y="338.95" font-size="14" text-anchor="start">0</text><line x1="560.1" y1="375.624" x2="557.1" y2="375.624" stroke="#262626" stroke-width="1"/><text x="561.6" y="380.824" font-size="14" text-anchor="start">-0.3</text><line x1="560.1" y1="417.498" x2="557.1" y2="417.498" stroke="#262626" stroke-width="1"/><text x="561.6" y="422.698" font-size="14" text-anchor="start">-0.6</text><line x1="363.2" y1="431.5" x2="363.2" y2="428.5" stroke="#262626" stroke-width="1"/><line x1="363.2" y1="250.0" x2="363.2" y2="253.0" stroke="#262626" stroke-width="1"/><text x="363.2" y="445.7" font-size="14" text-anchor="middle">15&#176;</text><line x1="419.5" y1="431.5" x2="419.5" y2="428.5" stroke="#262626" stroke-width="1"/><line x1="419.5" y1="250.0" x2="419.5" y2="253.0" stroke="#262626" stroke-width="1"/><text x="419.5" y="445.7" font-size="14" text-anchor="middle">20&#176;</text><line x1="475.7" y1="431.5" x2="475.7" y2="428.5" stroke="#262626" stroke-width="1"/><line x1="475.7" y1="250.0" x2="475.7" y2="253.0" stroke="#262626" stroke-width="1"/><text x="475.7" y="445.7" font-size="14" text-anchor="middle">25&#176;</text><line x1="532.2" y1="431.5" x2="532.2" y2="428.5" stroke="#262626" stroke-width="1"/><line x1="532.2" y1="250.0" x2="532.2" y2="253.0" stroke="#262626" stroke-width="1"/><text x="532.2" y="445.7" font-size="14" text-anchor="middle">30&#176;</text><text x="320.8" y="340.5" font-size="14.5" text-anchor="middle" transform="rotate(-90 320.8 340.5)">Average thrust force(N)</text><text x="597" y="340.7" font-size="14.5" text-anchor="middle" transform="rotate(-90 597 340.7)">Efficiency</text><text x="447.4" y="459.4" font-size="14.5" text-anchor="middle">Amplitude</text><text x="448.8" y="475.7" font-size="13" text-anchor="middle">(d)</text><rect x="429.5" y="252.6" width="128.10000000000002" height="30.50000000000003" fill="#fff" stroke="#262626" stroke-width="1.4"/><line x1="433.0" y1="260.3" x2="451.6" y2="260.3" stroke="#ff0000" stroke-width="2"/><circle cx="442.3" cy="260.3" r="1.6" fill="#ff4040"/><line x1="433.0" y1="275.0" x2="451.6" y2="275.0" stroke="#0000ff" stroke-width="2"/><text x="454.3" y="264.90000000000003" font-size="12" text-anchor="start">Average thrust force</text><text x="454.3" y="279.6" font-size="12" text-anchor="start">Efficiency</text>
<line x1="30.5" y1="516.8" x2="266.7" y2="516.8" stroke="#959595" stroke-width="1.2"/><line x1="30.5" y1="553.0" x2="266.7" y2="553.0" stroke="#959595" stroke-width="1.2"/><line x1="30.5" y1="589.1999999999999" x2="266.7" y2="589.1999999999999" stroke="#959595" stroke-width="1.2"/><line x1="30.5" y1="625.4" x2="266.7" y2="625.4" stroke="#959595" stroke-width="1.2"/><line x1="30.5" y1="661.6" x2="266.7" y2="661.6" stroke="#959595" stroke-width="1.2"/><line x1="89.55" y1="498.69999999999993" x2="89.55" y2="679.6999999999999" stroke="#959595" stroke-width="1.2"/><line x1="148.6" y1="498.69999999999993" x2="148.6" y2="679.6999999999999" stroke="#959595" stroke-width="1.2"/><line x1="207.64999999999998" y1="498.69999999999993" x2="207.64999999999998" y2="679.6999999999999" stroke="#959595" stroke-width="1.2"/><path d="M30.50,509.38 L31.09,509.41 L31.68,509.50 L32.27,509.65 L32.86,509.85 L33.45,510.12 L34.04,510.44 L34.63,510.83 L35.22,511.27 L35.81,511.77 L36.41,512.32 L37.00,512.93 L37.59,513.60 L38.18,514.32 L38.77,515.10 L39.36,515.93 L39.95,516.81 L40.54,517.75 L41.13,518.73 L41.72,519.77 L42.31,520.86 L42.90,521.99 L43.49,523.17 L44.08,524.40 L44.67,525.67 L45.26,526.98 L45.85,528.34 L46.44,529.73 L47.03,531.17 L47.62,532.64 L48.22,534.15 L48.81,535.69 L49.40,537.27 L49.99,538.88 L50.58,540.52 L51.17,542.19 L51.76,543.89 L52.35,545.61 L52.94,547.35 L53.53,549.12 L54.12,550.90 L54.71,552.71 L55.30,554.53 L55.89,556.36 L56.48,558.21 L57.07,560.07 L57.66,561.94 L58.25,563.82 L58.84,565.70 L59.43,567.58 L60.02,569.47 L60.62,571.36 L61.21,573.24 L61.80,575.13 L62.39,577.00 L62.98,578.87 L63.57,580.73 L64.16,582.58 L64.75,584.42 L65.34,586.24 L65.93,588.04 L66.52,589.83 L67.11,591.59 L67.70,593.34 L68.29,595.06 L68.88,596.75 L69.47,598.42 L70.06,600.06 L70.65,601.67 L71.24,603.25 L71.83,604.79 L72.43,606.30 L73.02,607.78 L73.61,609.21 L74.20,610.61 L74.79,611.96 L75.38,613.28 L75.97,614.55 L76.56,615.77 L77.15,616.95 L77.74,618.09 L78.33,619.17 L78.92,620.21 L79.51,621.19 L80.10,622.13 L80.69,623.01 L81.28,623.84 L81.87,624.62 L82.46,625.34 L83.05,626.01 L83.64,626.62 L84.24,627.18 L84.83,627.68 L85.42,628.12 L86.01,628.50 L86.60,628.82 L87.19,629.09 L87.78,629.30 L88.37,629.44 L88.96,629.53 L89.55,629.56 L90.14,629.53 L90.73,629.44 L91.32,629.30 L91.91,629.09 L92.50,628.83 L93.09,628.50 L93.68,628.12 L94.27,627.68 L94.86,627.18 L95.45,626.63 L96.05,626.02 L96.64,625.36 L97.23,624.64 L97.82,623.86 L98.41,623.03 L99.00,622.15 L99.59,621.22 L100.18,620.24 L100.77,619.20 L101.36,618.12 L101.95,616.99 L102.54,615.81 L103.13,614.59 L103.72,613.33 L104.31,612.02 L104.90,610.66 L105.49,609.27 L106.08,607.84 L106.67,606.37 L107.27,604.87 L107.86,603.33 L108.45,601.75 L109.04,600.15 L109.63,598.51 L110.22,596.85 L110.81,595.16 L111.40,593.45 L111.99,591.71 L112.58,589.95 L113.17,588.17 L113.76,586.37 L114.35,584.55 L114.94,582.72 L115.53,580.88 L116.12,579.02 L116.71,577.16 L117.30,575.29 L117.89,573.41 L118.48,571.53 L119.07,569.65 L119.67,567.77 L120.26,565.89 L120.85,564.01 L121.44,562.14 L122.03,560.28 L122.62,558.43 L123.21,556.58 L123.80,554.75 L124.39,552.94 L124.98,551.14 L125.57,549.36 L126.16,547.60 L126.75,545.86 L127.34,544.14 L127.93,542.45 L128.52,540.79 L129.11,539.15 L129.70,537.55 L130.29,535.98 L130.88,534.44 L131.48,532.93 L132.07,531.46 L132.66,530.03 L133.25,528.64 L133.84,527.29 L134.43,525.98 L135.02,524.71 L135.61,523.49 L136.20,522.31 L136.79,521.18 L137.38,520.10 L137.97,519.07 L138.56,518.08 L139.15,517.15 L139.74,516.27 L140.33,515.44 L140.92,514.67 L141.51,513.95 L142.10,513.28 L142.69,512.67 L143.29,512.12 L143.88,511.62 L144.47,511.18 L145.06,510.80 L145.65,510.48 L146.24,510.21 L146.83,510.01 L147.42,509.86 L148.01,509.77 L148.60,509.74 L149.19,509.77 L149.78,509.86 L150.37,510.01 L150.96,510.22 L151.55,510.48 L152.14,510.81 L152.73,511.19 L153.32,511.63 L153.91,512.13 L154.50,512.69 L155.10,513.30 L155.69,513.97 L156.28,514.70 L156.87,515.48 L157.46,516.31 L158.05,517.20 L158.64,518.13 L159.23,519.12 L159.82,520.16 L160.41,521.25 L161.00,522.39 L161.59,523.57 L162.18,524.80 L162.77,526.08 L163.36,527.39 L163.95,528.75 L164.54,530.15 L165.13,531.59 L165.72,533.07 L166.31,534.59 L166.91,536.14 L167.50,537.72 L168.09,539.33 L168.68,540.98 L169.27,542.65 L169.86,544.35 L170.45,546.08 L171.04,547.83 L171.63,549.60 L172.22,551.39 L172.81,553.20 L173.40,555.02 L173.99,556.87 L174.58,558.72 L175.17,560.59 L175.76,562.46 L176.35,564.34 L176.94,566.23 L177.53,568.12 L178.12,570.01 L178.72,571.91 L179.31,573.80 L179.90,575.69 L180.49,577.57 L181.08,579.44 L181.67,581.31 L182.26,583.16 L182.85,585.00 L183.44,586.83 L184.03,588.64 L184.62,590.43 L185.21,592.20 L185.80,593.95 L186.39,595.68 L186.98,597.38 L187.57,599.05 L188.16,600.70 L188.75,602.31 L189.34,603.89 L189.94,605.44 L190.53,606.96 L191.12,608.43 L191.71,609.87 L192.30,611.27 L192.89,612.63 L193.48,613.95 L194.07,615.23 L194.66,616.46 L195.25,617.64 L195.84,618.78 L196.43,619.86 L197.02,620.90 L197.61,621.89 L198.20,622.83 L198.79,623.72 L199.38,624.55 L199.97,625.33 L200.56,626.05 L201.15,626.72 L201.74,627.34 L202.34,627.89 L202.93,628.39 L203.52,628.84 L204.11,629.22 L204.70,629.54 L205.29,629.81 L205.88,630.02 L206.47,630.17 L207.06,630.26 L207.65,630.29 L208.24,630.26 L208.83,630.17 L209.42,630.02 L210.01,629.81 L210.60,629.55 L211.19,629.23 L211.78,628.84 L212.37,628.40 L212.96,627.91 L213.56,627.35 L214.15,626.75 L214.74,626.08 L215.33,625.36 L215.92,624.59 L216.51,623.76 L217.10,622.88 L217.69,621.94 L218.28,620.96 L218.87,619.93 L219.46,618.85 L220.05,617.71 L220.64,616.54 L221.23,615.32 L221.82,614.05 L222.41,612.74 L223.00,611.39 L223.59,610.00 L224.18,608.56 L224.77,607.10 L225.36,605.59 L225.96,604.05 L226.55,602.48 L227.14,600.87 L227.73,599.24 L228.32,597.58 L228.91,595.88 L229.50,594.17 L230.09,592.43 L230.68,590.67 L231.27,588.89 L231.86,587.09 L232.45,585.28 L233.04,583.45 L233.63,581.60 L234.22,579.75 L234.81,577.88 L235.40,576.01 L235.99,574.14 L236.58,572.26 L237.17,570.38 L237.77,568.49 L238.36,566.61 L238.95,564.74 L239.54,562.87 L240.13,561.00 L240.72,559.15 L241.31,557.31 L241.90,555.48 L242.49,553.66 L243.08,551.86 L243.67,550.08 L244.26,548.32 L244.85,546.58 L245.44,544.87 L246.03,543.18 L246.62,541.51 L247.21,539.88 L247.80,538.27 L248.39,536.70 L248.99,535.16 L249.58,533.66 L250.17,532.19 L250.76,530.76 L251.35,529.36 L251.94,528.01 L252.53,526.70 L253.12,525.44 L253.71,524.21 L254.30,523.04 L254.89,521.91 L255.48,520.82 L256.07,519.79 L256.66,518.81 L257.25,517.88 L257.84,516.99 L258.43,516.17 L259.02,515.39 L259.61,514.67 L260.20,514.01 L260.79,513.40 L261.39,512.84 L261.98,512.35 L262.57,511.91 L263.16,511.53 L263.75,511.20 L264.34,510.94 L264.93,510.73 L265.52,510.58 L266.11,510.49 L266.70,510.46" fill="none" stroke="#ff0000" stroke-width="2.3" stroke-linejoin="round"/><path d="M30.50,527.48 L31.09,527.51 L31.68,527.59 L32.27,527.72 L32.86,527.91 L33.45,528.15 L34.04,528.44 L34.63,528.79 L35.22,529.19 L35.81,529.64 L36.41,530.15 L37.00,530.70 L37.59,531.30 L38.18,531.96 L38.77,532.66 L39.36,533.42 L39.95,534.22 L40.54,535.07 L41.13,535.96 L41.72,536.90 L42.31,537.88 L42.90,538.91 L43.49,539.98 L44.08,541.09 L44.67,542.25 L45.26,543.44 L45.85,544.67 L46.44,545.93 L47.03,547.23 L47.62,548.57 L48.22,549.94 L48.81,551.34 L49.40,552.77 L49.99,554.23 L50.58,555.71 L51.17,557.23 L51.76,558.76 L52.35,560.32 L52.94,561.90 L53.53,563.51 L54.12,565.12 L54.71,566.76 L55.30,568.41 L55.89,570.08 L56.48,571.75 L57.07,573.44 L57.66,575.13 L58.25,576.83 L58.84,578.54 L59.43,580.25 L60.02,581.96 L60.62,583.67 L61.21,585.38 L61.80,587.09 L62.39,588.79 L62.98,590.48 L63.57,592.17 L64.16,593.84 L64.75,595.51 L65.34,597.16 L65.93,598.80 L66.52,600.41 L67.11,602.02 L67.70,603.60 L68.29,605.16 L68.88,606.69 L69.47,608.21 L70.06,609.69 L70.65,611.15 L71.24,612.58 L71.83,613.98 L72.43,615.35 L73.02,616.69 L73.61,617.99 L74.20,619.25 L74.79,620.48 L75.38,621.67 L75.97,622.83 L76.56,623.94 L77.15,625.01 L77.74,626.04 L78.33,627.02 L78.92,627.96 L79.51,628.85 L80.10,629.70 L80.69,630.50 L81.28,631.26 L81.87,631.96 L82.46,632.62 L83.05,633.22 L83.64,633.77 L84.24,634.28 L84.83,634.73 L85.42,635.13 L86.01,635.48 L86.60,635.77 L87.19,636.01 L87.78,636.20 L88.37,636.33 L88.96,636.41 L89.55,636.44 L90.14,636.41 L90.73,636.33 L91.32,636.20 L91.91,636.01 L92.50,635.77 L93.09,635.48 L93.68,635.13 L94.27,634.73 L94.86,634.28 L95.45,633.78 L96.05,633.23 L96.64,632.62 L97.23,631.97 L97.82,631.26 L98.41,630.51 L99.00,629.71 L99.59,628.86 L100.18,627.97 L100.77,627.03 L101.36,626.04 L101.95,625.02 L102.54,623.95 L103.13,622.83 L103.72,621.68 L104.31,620.49 L104.90,619.25 L105.49,617.98 L106.08,616.68 L106.67,615.34 L107.27,613.97 L107.86,612.56 L108.45,611.12 L109.04,609.65 L109.63,608.16 L110.22,606.64 L110.81,605.09 L111.40,603.52 L111.99,601.93 L112.58,600.31 L113.17,598.68 L113.76,597.03 L114.35,595.36 L114.94,593.67 L115.53,591.98 L116.12,590.27 L116.71,588.55 L117.30,586.83 L117.89,585.10 L118.48,583.36 L119.07,581.62 L119.67,579.88 L120.26,578.14 L120.85,576.40 L121.44,574.66 L122.03,572.93 L122.62,571.20 L123.21,569.49 L123.80,567.78 L124.39,566.08 L124.98,564.40 L125.57,562.73 L126.16,561.08 L126.75,559.45 L127.34,557.83 L127.93,556.24 L128.52,554.67 L129.11,553.12 L129.70,551.60 L130.29,550.10 L130.88,548.64 L131.48,547.20 L132.07,545.79 L132.66,544.42 L133.25,543.08 L133.84,541.77 L134.43,540.50 L135.02,539.27 L135.61,538.08 L136.20,536.92 L136.79,535.81 L137.38,534.74 L137.97,533.71 L138.56,532.73 L139.15,531.79 L139.74,530.89 L140.33,530.05 L140.92,529.25 L141.51,528.49 L142.10,527.79 L142.69,527.14 L143.29,526.53 L143.88,525.98 L144.47,525.48 L145.06,525.02 L145.65,524.63 L146.24,524.28 L146.83,523.99 L147.42,523.74 L148.01,523.56 L148.60,523.42 L149.19,523.34 L149.78,523.32 L150.37,523.34 L150.96,523.43 L151.55,523.58 L152.14,523.78 L152.73,524.04 L153.32,524.36 L153.91,524.73 L154.50,525.16 L155.10,525.65 L155.69,526.19 L156.28,526.79 L156.87,527.44 L157.46,528.14 L158.05,528.90 L158.64,529.71 L159.23,530.57 L159.82,531.48 L160.41,532.44 L161.00,533.45 L161.59,534.51 L162.18,535.62 L162.77,536.77 L163.36,537.96 L163.95,539.20 L164.54,540.47 L165.13,541.79 L165.72,543.15 L166.31,544.54 L166.91,545.98 L167.50,547.44 L168.09,548.94 L168.68,550.47 L169.27,552.03 L169.86,553.62 L170.45,555.23 L171.04,556.88 L171.63,558.54 L172.22,560.23 L172.81,561.93 L173.40,563.66 L173.99,565.40 L174.58,567.15 L175.17,568.92 L175.76,570.70 L176.35,572.49 L176.94,574.28 L177.53,576.09 L178.12,577.89 L178.72,579.70 L179.31,581.50 L179.90,583.31 L180.49,585.11 L181.08,586.91 L181.67,588.70 L182.26,590.48 L182.85,592.24 L183.44,594.00 L184.03,595.74 L184.62,597.46 L185.21,599.17 L185.80,600.86 L186.39,602.52 L186.98,604.16 L187.57,605.78 L188.16,607.36 L188.75,608.93 L189.34,610.46 L189.94,611.95 L190.53,613.42 L191.12,614.85 L191.71,616.25 L192.30,617.60 L192.89,618.92 L193.48,620.20 L194.07,621.44 L194.66,622.63 L195.25,623.78 L195.84,624.88 L196.43,625.94 L197.02,626.95 L197.61,627.91 L198.20,628.82 L198.79,629.69 L199.38,630.50 L199.97,631.25 L200.56,631.96 L201.15,632.61 L201.74,633.21 L202.34,633.75 L202.93,634.24 L203.52,634.67 L204.11,635.04 L204.70,635.36 L205.29,635.62 L205.88,635.82 L206.47,635.96 L207.06,636.05 L207.65,636.08 L208.24,636.05 L208.83,635.98 L209.42,635.85 L210.01,635.67 L210.60,635.44 L211.19,635.16 L211.78,634.83 L212.37,634.46 L212.96,634.03 L213.56,633.55 L214.15,633.02 L214.74,632.45 L215.33,631.83 L215.92,631.16 L216.51,630.45 L217.10,629.69 L217.69,628.88 L218.28,628.03 L218.87,627.14 L219.46,626.21 L220.05,625.24 L220.64,624.22 L221.23,623.17 L221.82,622.07 L222.41,620.94 L223.00,619.78 L223.59,618.58 L224.18,617.34 L224.77,616.08 L225.36,614.78 L225.96,613.45 L226.55,612.09 L227.14,610.71 L227.73,609.30 L228.32,607.86 L228.91,606.41 L229.50,604.93 L230.09,603.43 L230.68,601.91 L231.27,600.37 L231.86,598.82 L232.45,597.25 L233.04,595.68 L233.63,594.09 L234.22,592.49 L234.81,590.88 L235.40,589.27 L235.99,587.65 L236.58,586.03 L237.17,584.40 L237.77,582.78 L238.36,581.16 L238.95,579.54 L239.54,577.93 L240.13,576.32 L240.72,574.72 L241.31,573.13 L241.90,571.55 L242.49,569.99 L243.08,568.43 L243.67,566.90 L244.26,565.38 L244.85,563.88 L245.44,562.40 L246.03,560.94 L246.62,559.51 L247.21,558.10 L247.80,556.71 L248.39,555.36 L248.99,554.03 L249.58,552.73 L250.17,551.46 L250.76,550.23 L251.35,549.03 L251.94,547.86 L252.53,546.73 L253.12,545.64 L253.71,544.59 L254.30,543.57 L254.89,542.60 L255.48,541.66 L256.07,540.77 L256.66,539.92 L257.25,539.12 L257.84,538.36 L258.43,537.65 L259.02,536.98 L259.61,536.36 L260.20,535.78 L260.79,535.26 L261.39,534.78 L261.98,534.35 L262.57,533.97 L263.16,533.64 L263.75,533.36 L264.34,533.14 L264.93,532.96 L265.52,532.83 L266.11,532.75 L266.70,532.73" fill="none" stroke="#00ff00" stroke-width="2.3" stroke-linejoin="round"/><path d="M30.50,548.29 L31.09,548.32 L31.68,548.39 L32.27,548.50 L32.86,548.67 L33.45,548.88 L34.04,549.13 L34.63,549.43 L35.22,549.78 L35.81,550.17 L36.41,550.61 L37.00,551.09 L37.59,551.61 L38.18,552.18 L38.77,552.79 L39.36,553.44 L39.95,554.14 L40.54,554.87 L41.13,555.65 L41.72,556.46 L42.31,557.32 L42.90,558.21 L43.49,559.14 L44.08,560.10 L44.67,561.10 L45.26,562.13 L45.85,563.20 L46.44,564.29 L47.03,565.42 L47.62,566.58 L48.22,567.77 L48.81,568.98 L49.40,570.22 L49.99,571.49 L50.58,572.78 L51.17,574.09 L51.76,575.42 L52.35,576.77 L52.94,578.14 L53.53,579.53 L54.12,580.94 L54.71,582.36 L55.30,583.79 L55.89,585.23 L56.48,586.68 L57.07,588.14 L57.66,589.61 L58.25,591.09 L58.84,592.57 L59.43,594.05 L60.02,595.53 L60.62,597.02 L61.21,598.50 L61.80,599.98 L62.39,601.46 L62.98,602.93 L63.57,604.39 L64.16,605.84 L64.75,607.28 L65.34,608.71 L65.93,610.13 L66.52,611.54 L67.11,612.93 L67.70,614.30 L68.29,615.65 L68.88,616.98 L69.47,618.29 L70.06,619.58 L70.65,620.85 L71.24,622.09 L71.83,623.30 L72.43,624.49 L73.02,625.65 L73.61,626.78 L74.20,627.87 L74.79,628.94 L75.38,629.97 L75.97,630.97 L76.56,631.93 L77.15,632.86 L77.74,633.75 L78.33,634.61 L78.92,635.42 L79.51,636.20 L80.10,636.93 L80.69,637.63 L81.28,638.28 L81.87,638.89 L82.46,639.46 L83.05,639.98 L83.64,640.46 L84.24,640.90 L84.83,641.29 L85.42,641.64 L86.01,641.94 L86.60,642.19 L87.19,642.40 L87.78,642.57 L88.37,642.68 L88.96,642.75 L89.55,642.78 L90.14,642.75 L90.73,642.68 L91.32,642.57 L91.91,642.41 L92.50,642.21 L93.09,641.96 L93.68,641.66 L94.27,641.32 L94.86,640.94 L95.45,640.51 L96.05,640.04 L96.64,639.53 L97.23,638.98 L97.82,638.38 L98.41,637.74 L99.00,637.06 L99.59,636.34 L100.18,635.58 L100.77,634.78 L101.36,633.94 L101.95,633.07 L102.54,632.16 L103.13,631.21 L103.72,630.23 L104.31,629.22 L104.90,628.17 L105.49,627.10 L106.08,625.99 L106.67,624.85 L107.27,623.68 L107.86,622.49 L108.45,621.26 L109.04,620.02 L109.63,618.75 L110.22,617.46 L110.81,616.14 L111.40,614.81 L111.99,613.45 L112.58,612.08 L113.17,610.69 L113.76,609.29 L114.35,607.87 L114.94,606.44 L115.53,605.00 L116.12,603.55 L116.71,602.09 L117.30,600.63 L117.89,599.15 L118.48,597.68 L119.07,596.20 L119.67,594.72 L120.26,593.24 L120.85,591.76 L121.44,590.29 L122.03,588.82 L122.62,587.35 L123.21,585.89 L123.80,584.44 L124.39,583.00 L124.98,581.57 L125.57,580.15 L126.16,578.75 L126.75,577.36 L127.34,575.99 L127.93,574.64 L128.52,573.30 L129.11,571.99 L129.70,570.69 L130.29,569.42 L130.88,568.18 L131.48,566.96 L132.07,565.76 L132.66,564.59 L133.25,563.45 L133.84,562.35 L134.43,561.27 L135.02,560.22 L135.61,559.21 L136.20,558.23 L136.79,557.28 L137.38,556.37 L137.97,555.50 L138.56,554.66 L139.15,553.86 L139.74,553.10 L140.33,552.38 L140.92,551.70 L141.51,551.06 L142.10,550.47 L142.69,549.91 L143.29,549.40 L143.88,548.93 L144.47,548.50 L145.06,548.12 L145.65,547.78 L146.24,547.48 L146.83,547.23 L147.42,547.03 L148.01,546.87 L148.60,546.76 L149.19,546.69 L149.78,546.66 L150.37,546.69 L150.96,546.77 L151.55,546.90 L152.14,547.08 L152.73,547.31 L153.32,547.60 L153.91,547.94 L154.50,548.32 L155.10,548.76 L155.69,549.25 L156.28,549.78 L156.87,550.37 L157.46,551.00 L158.05,551.68 L158.64,552.41 L159.23,553.19 L159.82,554.01 L160.41,554.87 L161.00,555.78 L161.59,556.73 L162.18,557.72 L162.77,558.75 L163.36,559.83 L163.95,560.94 L164.54,562.09 L165.13,563.27 L165.72,564.49 L166.31,565.75 L166.91,567.03 L167.50,568.35 L168.09,569.70 L168.68,571.07 L169.27,572.48 L169.86,573.90 L170.45,575.36 L171.04,576.83 L171.63,578.33 L172.22,579.84 L172.81,581.38 L173.40,582.93 L173.99,584.49 L174.58,586.07 L175.17,587.66 L175.76,589.26 L176.35,590.86 L176.94,592.48 L177.53,594.10 L178.12,595.72 L178.72,597.34 L179.31,598.97 L179.90,600.59 L180.49,602.21 L181.08,603.83 L181.67,605.43 L182.26,607.03 L182.85,608.62 L183.44,610.20 L184.03,611.76 L184.62,613.31 L185.21,614.85 L185.80,616.36 L186.39,617.86 L186.98,619.33 L187.57,620.79 L188.16,622.21 L188.75,623.62 L189.34,624.99 L189.94,626.34 L190.53,627.66 L191.12,628.94 L191.71,630.20 L192.30,631.42 L192.89,632.60 L193.48,633.75 L194.07,634.86 L194.66,635.94 L195.25,636.97 L195.84,637.96 L196.43,638.91 L197.02,639.82 L197.61,640.68 L198.20,641.50 L198.79,642.28 L199.38,643.01 L199.97,643.69 L200.56,644.32 L201.15,644.91 L201.74,645.44 L202.34,645.93 L202.93,646.37 L203.52,646.75 L204.11,647.09 L204.70,647.38 L205.29,647.61 L205.88,647.79 L206.47,647.92 L207.06,648.00 L207.65,648.02 L208.24,648.00 L208.83,647.92 L209.42,647.80 L210.01,647.63 L210.60,647.40 L211.19,647.13 L211.78,646.80 L212.37,646.43 L212.96,646.01 L213.56,645.54 L214.15,645.03 L214.74,644.47 L215.33,643.86 L215.92,643.20 L216.51,642.50 L217.10,641.76 L217.69,640.97 L218.28,640.14 L218.87,639.26 L219.46,638.35 L220.05,637.39 L220.64,636.39 L221.23,635.36 L221.82,634.29 L222.41,633.18 L223.00,632.04 L223.59,630.86 L224.18,629.65 L224.77,628.41 L225.36,627.13 L225.96,625.83 L226.55,624.50 L227.14,623.14 L227.73,621.76 L228.32,620.35 L228.91,618.92 L229.50,617.47 L230.09,616.00 L230.68,614.51 L231.27,613.01 L231.86,611.48 L232.45,609.95 L233.04,608.40 L233.63,606.84 L234.22,605.27 L234.81,603.70 L235.40,602.11 L235.99,600.53 L236.58,598.94 L237.17,597.35 L237.77,595.75 L238.36,594.16 L238.95,592.58 L239.54,590.99 L240.13,589.42 L240.72,587.85 L241.31,586.29 L241.90,584.74 L242.49,583.21 L243.08,581.68 L243.67,580.18 L244.26,578.69 L244.85,577.22 L245.44,575.77 L246.03,574.34 L246.62,572.93 L247.21,571.55 L247.80,570.19 L248.39,568.86 L248.99,567.56 L249.58,566.28 L250.17,565.04 L250.76,563.83 L251.35,562.65 L251.94,561.51 L252.53,560.40 L253.12,559.33 L253.71,558.30 L254.30,557.30 L254.89,556.34 L255.48,555.43 L256.07,554.55 L256.66,553.72 L257.25,552.93 L257.84,552.19 L258.43,551.49 L259.02,550.83 L259.61,550.22 L260.20,549.66 L260.79,549.15 L261.39,548.68 L261.98,548.26 L262.57,547.89 L263.16,547.56 L263.75,547.29 L264.34,547.06 L264.93,546.89 L265.52,546.77 L266.11,546.69 L266.70,546.66" fill="none" stroke="#00ffff" stroke-width="2.3" stroke-linejoin="round"/><path d="M30.50,554.81 L31.09,554.83 L31.68,554.90 L32.27,555.02 L32.86,555.18 L33.45,555.39 L34.04,555.64 L34.63,555.94 L35.22,556.28 L35.81,556.67 L36.41,557.10 L37.00,557.57 L37.59,558.09 L38.18,558.65 L38.77,559.26 L39.36,559.90 L39.95,560.59 L40.54,561.32 L41.13,562.09 L41.72,562.90 L42.31,563.74 L42.90,564.63 L43.49,565.55 L44.08,566.50 L44.67,567.49 L45.26,568.52 L45.85,569.58 L46.44,570.67 L47.03,571.79 L47.62,572.94 L48.22,574.12 L48.81,575.33 L49.40,576.56 L49.99,577.82 L50.58,579.11 L51.17,580.42 L51.76,581.75 L52.35,583.10 L52.94,584.47 L53.53,585.85 L54.12,587.26 L54.71,588.68 L55.30,590.11 L55.89,591.55 L56.48,593.01 L57.07,594.48 L57.66,595.95 L58.25,597.44 L58.84,598.92 L59.43,600.42 L60.02,601.91 L60.62,603.41 L61.21,604.91 L61.80,606.40 L62.39,607.89 L62.98,609.38 L63.57,610.86 L64.16,612.34 L64.75,613.81 L65.34,615.26 L65.93,616.71 L66.52,618.14 L67.11,619.56 L67.70,620.96 L68.29,622.35 L68.88,623.72 L69.47,625.07 L70.06,626.40 L70.65,627.71 L71.24,628.99 L71.83,630.25 L72.43,631.49 L73.02,632.70 L73.61,633.88 L74.20,635.03 L74.79,636.15 L75.38,637.24 L75.97,638.30 L76.56,639.32 L77.15,640.31 L77.74,641.27 L78.33,642.19 L78.92,643.07 L79.51,643.92 L80.10,644.73 L80.69,645.50 L81.28,646.22 L81.87,646.91 L82.46,647.56 L83.05,648.16 L83.64,648.73 L84.24,649.24 L84.83,649.72 L85.42,650.15 L86.01,650.54 L86.60,650.88 L87.19,651.18 L87.78,651.43 L88.37,651.64 L88.96,651.80 L89.55,651.91 L90.14,651.98 L90.73,652.01 L91.32,651.98 L91.91,651.91 L92.50,651.79 L93.09,651.63 L93.68,651.42 L94.27,651.16 L94.86,650.85 L95.45,650.50 L96.05,650.10 L96.64,649.66 L97.23,649.17 L97.82,648.64 L98.41,648.06 L99.00,647.44 L99.59,646.78 L100.18,646.07 L100.77,645.33 L101.36,644.54 L101.95,643.71 L102.54,642.85 L103.13,641.94 L103.72,641.00 L104.31,640.02 L104.90,639.01 L105.49,637.96 L106.08,636.88 L106.67,635.76 L107.27,634.62 L107.86,633.44 L108.45,632.24 L109.04,631.00 L109.63,629.74 L110.22,628.46 L110.81,627.15 L111.40,625.82 L111.99,624.46 L112.58,623.09 L113.17,621.70 L113.76,620.29 L114.35,618.86 L114.94,617.42 L115.53,615.97 L116.12,614.51 L116.71,613.03 L117.30,611.55 L117.89,610.05 L118.48,608.56 L119.07,607.05 L119.67,605.55 L120.26,604.04 L120.85,602.54 L121.44,601.03 L122.03,599.53 L122.62,598.03 L123.21,596.54 L123.80,595.05 L124.39,593.58 L124.98,592.11 L125.57,590.66 L126.16,589.22 L126.75,587.79 L127.34,586.38 L127.93,584.99 L128.52,583.62 L129.11,582.27 L129.70,580.93 L130.29,579.63 L130.88,578.34 L131.48,577.08 L132.07,575.85 L132.66,574.64 L133.25,573.47 L133.84,572.32 L134.43,571.21 L135.02,570.13 L135.61,569.08 L136.20,568.06 L136.79,567.08 L137.38,566.14 L137.97,565.24 L138.56,564.37 L139.15,563.54 L139.74,562.76 L140.33,562.01 L140.92,561.30 L141.51,560.64 L142.10,560.02 L142.69,559.45 L143.29,558.91 L143.88,558.42 L144.47,557.98 L145.06,557.58 L145.65,557.23 L146.24,556.93 L146.83,556.67 L147.42,556.46 L148.01,556.29 L148.60,556.17 L149.19,556.10 L149.78,556.08 L150.37,556.10 L150.96,556.17 L151.55,556.29 L152.14,556.46 L152.73,556.68 L153.32,556.94 L153.91,557.25 L154.50,557.61 L155.10,558.01 L155.69,558.46 L156.28,558.96 L156.87,559.50 L157.46,560.08 L158.05,560.71 L158.64,561.38 L159.23,562.10 L159.82,562.86 L160.41,563.66 L161.00,564.50 L161.59,565.38 L162.18,566.29 L162.77,567.25 L163.36,568.24 L163.95,569.27 L164.54,570.34 L165.13,571.44 L165.72,572.57 L166.31,573.73 L166.91,574.92 L167.50,576.15 L168.09,577.40 L168.68,578.68 L169.27,579.98 L169.86,581.31 L170.45,582.66 L171.04,584.04 L171.63,585.43 L172.22,586.84 L172.81,588.27 L173.40,589.72 L173.99,591.18 L174.58,592.66 L175.17,594.14 L175.76,595.64 L176.35,597.15 L176.94,598.66 L177.53,600.18 L178.12,601.71 L178.72,603.24 L179.31,604.77 L179.90,606.30 L180.49,607.82 L181.08,609.35 L181.67,610.87 L182.26,612.38 L182.85,613.89 L183.44,615.39 L184.03,616.87 L184.62,618.35 L185.21,619.81 L185.80,621.26 L186.39,622.69 L186.98,624.10 L187.57,625.50 L188.16,626.87 L188.75,628.22 L189.34,629.55 L189.94,630.85 L190.53,632.13 L191.12,633.38 L191.71,634.61 L192.30,635.80 L192.89,636.96 L193.48,638.10 L194.07,639.19 L194.66,640.26 L195.25,641.29 L195.84,642.28 L196.43,643.24 L197.02,644.16 L197.61,645.04 L198.20,645.88 L198.79,646.67 L199.38,647.43 L199.97,648.15 L200.56,648.82 L201.15,649.45 L201.74,650.04 L202.34,650.58 L202.93,651.07 L203.52,651.52 L204.11,651.93 L204.70,652.28 L205.29,652.59 L205.88,652.86 L206.47,653.07 L207.06,653.24 L207.65,653.36 L208.24,653.43 L208.83,653.45 L209.42,653.43 L210.01,653.36 L210.60,653.23 L211.19,653.06 L211.78,652.84 L212.37,652.57 L212.96,652.25 L213.56,651.88 L214.15,651.47 L214.74,651.00 L215.33,650.49 L215.92,649.94 L216.51,649.33 L217.10,648.69 L217.69,648.00 L218.28,647.26 L218.87,646.48 L219.46,645.66 L220.05,644.80 L220.64,643.89 L221.23,642.95 L221.82,641.97 L222.41,640.95 L223.00,639.89 L223.59,638.80 L224.18,637.68 L224.77,636.52 L225.36,635.33 L225.96,634.11 L226.55,632.85 L227.14,631.57 L227.73,630.27 L228.32,628.94 L228.91,627.58 L229.50,626.20 L230.09,624.80 L230.68,623.38 L231.27,621.94 L231.86,620.48 L232.45,619.01 L233.04,617.52 L233.63,616.02 L234.22,614.51 L234.81,612.99 L235.40,611.47 L235.99,609.93 L236.58,608.39 L237.17,606.85 L237.77,605.31 L238.36,603.77 L238.95,602.22 L239.54,600.69 L240.13,599.15 L240.72,597.62 L241.31,596.11 L241.90,594.60 L242.49,593.10 L243.08,591.61 L243.67,590.14 L244.26,588.68 L244.85,587.24 L245.44,585.82 L246.03,584.42 L246.62,583.04 L247.21,581.68 L247.80,580.35 L248.39,579.04 L248.99,577.76 L249.58,576.51 L250.17,575.29 L250.76,574.10 L251.35,572.94 L251.94,571.81 L252.53,570.72 L253.12,569.67 L253.71,568.65 L254.30,567.67 L254.89,566.72 L255.48,565.82 L256.07,564.96 L256.66,564.14 L257.25,563.36 L257.84,562.62 L258.43,561.93 L259.02,561.28 L259.61,560.68 L260.20,560.13 L260.79,559.62 L261.39,559.15 L261.98,558.74 L262.57,558.37 L263.16,558.05 L263.75,557.78 L264.34,557.56 L264.93,557.39 L265.52,557.26 L266.11,557.19 L266.70,557.16" fill="none" stroke="#0000ff" stroke-width="2.3" stroke-linejoin="round"/><path d="M30.50,557.11 L31.09,557.47 L31.68,557.88 L32.27,558.33 L32.86,558.82 L33.45,559.36 L34.04,559.93 L34.63,560.54 L35.22,561.20 L35.81,561.89 L36.41,562.62 L37.00,563.39 L37.59,564.19 L38.18,565.03 L38.77,565.91 L39.36,566.82 L39.95,567.76 L40.54,568.74 L41.13,569.75 L41.72,570.79 L42.31,571.86 L42.90,572.96 L43.49,574.09 L44.08,575.25 L44.67,576.43 L45.26,577.64 L45.85,578.88 L46.44,580.13 L47.03,581.41 L47.62,582.71 L48.22,584.03 L48.81,585.37 L49.40,586.73 L49.99,588.10 L50.58,589.49 L51.17,590.89 L51.76,592.30 L52.35,593.73 L52.94,595.17 L53.53,596.61 L54.12,598.06 L54.71,599.52 L55.30,600.99 L55.89,602.46 L56.48,603.93 L57.07,605.40 L57.66,606.87 L58.25,608.34 L58.84,609.81 L59.43,611.28 L60.02,612.74 L60.62,614.19 L61.21,615.63 L61.80,617.07 L62.39,618.50 L62.98,619.91 L63.57,621.31 L64.16,622.70 L64.75,624.07 L65.34,625.43 L65.93,626.77 L66.52,628.09 L67.11,629.39 L67.70,630.67 L68.29,631.92 L68.88,633.16 L69.47,634.36 L70.06,635.55 L70.65,636.71 L71.24,637.83 L71.83,638.94 L72.43,640.01 L73.02,641.05 L73.61,642.06 L74.20,643.04 L74.79,643.98 L75.38,644.89 L75.97,645.77 L76.56,646.61 L77.15,647.41 L77.74,648.18 L78.33,648.91 L78.92,649.60 L79.51,650.25 L80.10,650.87 L80.69,651.44 L81.28,651.97 L81.87,652.47 L82.46,652.92 L83.05,653.33 L83.64,653.69 L84.24,654.02 L84.83,654.30 L85.42,654.54 L86.01,654.74 L86.60,654.89 L87.19,655.00 L87.78,655.06 L88.37,655.08 L88.96,655.06 L89.55,654.98 L90.14,654.86 L90.73,654.68 L91.32,654.46 L91.91,654.18 L92.50,653.86 L93.09,653.49 L93.68,653.07 L94.27,652.60 L94.86,652.08 L95.45,651.52 L96.05,650.91 L96.64,650.25 L97.23,649.55 L97.82,648.81 L98.41,648.02 L99.00,647.19 L99.59,646.32 L100.18,645.41 L100.77,644.46 L101.36,643.47 L101.95,642.44 L102.54,641.38 L103.13,640.28 L103.72,639.14 L104.31,637.98 L104.90,636.78 L105.49,635.55 L106.08,634.29 L106.67,633.01 L107.27,631.70 L107.86,630.36 L108.45,629.01 L109.04,627.63 L109.63,626.23 L110.22,624.81 L110.81,623.37 L111.40,621.92 L111.99,620.45 L112.58,618.97 L113.17,617.48 L113.76,615.99 L114.35,614.48 L114.94,612.97 L115.53,611.45 L116.12,609.93 L116.71,608.41 L117.30,606.89 L117.89,605.38 L118.48,603.86 L119.07,602.35 L119.67,600.85 L120.26,599.36 L120.85,597.88 L121.44,596.41 L122.03,594.96 L122.62,593.52 L123.21,592.10 L123.80,590.69 L124.39,589.31 L124.98,587.94 L125.57,586.60 L126.16,585.29 L126.75,584.00 L127.34,582.74 L127.93,581.50 L128.52,580.30 L129.11,579.13 L129.70,577.99 L130.29,576.88 L130.88,575.81 L131.48,574.77 L132.07,573.78 L132.66,572.82 L133.25,571.90 L133.84,571.02 L134.43,570.18 L135.02,569.38 L135.61,568.63 L136.20,567.92 L136.79,567.26 L137.38,566.64 L137.97,566.07 L138.56,565.54 L139.15,565.06 L139.74,564.63 L140.33,564.25 L140.92,563.92 L141.51,563.63 L142.10,563.40 L142.69,563.21 L143.29,563.08 L143.88,562.99 L144.47,562.96 L145.06,562.97 L145.65,563.03 L146.24,563.14 L146.83,563.30 L147.42,563.50 L148.01,563.75 L148.60,564.05 L149.19,564.40 L149.78,564.79 L150.37,565.23 L150.96,565.71 L151.55,566.24 L152.14,566.81 L152.73,567.43 L153.32,568.09 L153.91,568.79 L154.50,569.53 L155.10,570.32 L155.69,571.15 L156.28,572.01 L156.87,572.92 L157.46,573.86 L158.05,574.84 L158.64,575.86 L159.23,576.91 L159.82,578.00 L160.41,579.12 L161.00,580.27 L161.59,581.46 L162.18,582.67 L162.77,583.91 L163.36,585.18 L163.95,586.48 L164.54,587.80 L165.13,589.14 L165.72,590.51 L166.31,591.90 L166.91,593.31 L167.50,594.74 L168.09,596.18 L168.68,597.65 L169.27,599.12 L169.86,600.61 L170.45,602.11 L171.04,603.62 L171.63,605.14 L172.22,606.67 L172.81,608.20 L173.40,609.74 L173.99,611.28 L174.58,612.82 L175.17,614.36 L175.76,615.90 L176.35,617.44 L176.94,618.97 L177.53,620.50 L178.12,622.02 L178.72,623.53 L179.31,625.03 L179.90,626.52 L180.49,627.99 L181.08,629.46 L181.67,630.90 L182.26,632.33 L182.85,633.74 L183.44,635.13 L184.03,636.50 L184.62,637.84 L185.21,639.16 L185.80,640.46 L186.39,641.73 L186.98,642.97 L187.57,644.19 L188.16,645.37 L188.75,646.52 L189.34,647.64 L189.94,648.73 L190.53,649.78 L191.12,650.80 L191.71,651.78 L192.30,652.72 L192.89,653.63 L193.48,654.50 L194.07,655.32 L194.66,656.11 L195.25,656.85 L195.84,657.55 L196.43,658.21 L197.02,658.83 L197.61,659.40 L198.20,659.93 L198.79,660.41 L199.38,660.85 L199.97,661.24 L200.56,661.59 L201.15,661.89 L201.74,662.14 L202.34,662.34 L202.93,662.50 L203.52,662.61 L204.11,662.67 L204.70,662.68 L205.29,662.65 L205.88,662.56 L206.47,662.43 L207.06,662.24 L207.65,662.01 L208.24,661.72 L208.83,661.38 L209.42,661.00 L210.01,660.57 L210.60,660.09 L211.19,659.56 L211.78,658.98 L212.37,658.36 L212.96,657.69 L213.56,656.97 L214.15,656.21 L214.74,655.40 L215.33,654.56 L215.92,653.67 L216.51,652.73 L217.10,651.76 L217.69,650.75 L218.28,649.70 L218.87,648.61 L219.46,647.48 L220.05,646.32 L220.64,645.12 L221.23,643.89 L221.82,642.63 L222.41,641.33 L223.00,640.01 L223.59,638.66 L224.18,637.28 L224.77,635.87 L225.36,634.44 L225.96,632.99 L226.55,631.51 L227.14,630.02 L227.73,628.50 L228.32,626.97 L228.91,625.43 L229.50,623.86 L230.09,622.29 L230.68,620.70 L231.27,619.10 L231.86,617.50 L232.45,615.89 L233.04,614.27 L233.63,612.65 L234.22,611.03 L234.81,609.40 L235.40,607.78 L235.99,606.16 L236.58,604.54 L237.17,602.93 L237.77,601.33 L238.36,599.73 L238.95,598.15 L239.54,596.58 L240.13,595.02 L240.72,593.47 L241.31,591.94 L241.90,590.43 L242.49,588.94 L243.08,587.47 L243.67,586.02 L244.26,584.60 L244.85,583.20 L245.44,581.82 L246.03,580.48 L246.62,579.16 L247.21,577.87 L247.80,576.62 L248.39,575.39 L248.99,574.20 L249.58,573.05 L250.17,571.93 L250.76,570.84 L251.35,569.80 L251.94,568.80 L252.53,567.83 L253.12,566.91 L253.71,566.02 L254.30,565.18 L254.89,564.39 L255.48,563.64 L256.07,562.93 L256.66,562.27 L257.25,561.66 L257.84,561.09 L258.43,560.57 L259.02,560.10 L259.61,559.67 L260.20,559.30 L260.79,558.97 L261.39,558.70 L261.98,558.47 L262.57,558.29 L263.16,558.17 L263.75,558.09 L264.34,558.07 L264.93,558.07 L265.52,558.07 L266.11,558.07 L266.70,558.07" fill="none" stroke="#ff00ff" stroke-width="2.3" stroke-linejoin="round"/><rect x="30.5" y="498.69999999999993" width="236.2" height="181.0" stroke="#383838" stroke-width="1.7" fill="none"/><line x1="30.5" y1="516.8" x2="33.5" y2="516.8" stroke="#262626" stroke-width="1"/><line x1="266.7" y1="516.8" x2="263.7" y2="516.8" stroke="#262626" stroke-width="1"/><line x1="30.5" y1="553.0" x2="33.5" y2="553.0" stroke="#262626" stroke-width="1"/><line x1="266.7" y1="553.0" x2="263.7" y2="553.0" stroke="#262626" stroke-width="1"/><line x1="30.5" y1="589.1999999999999" x2="33.5" y2="589.1999999999999" stroke="#262626" stroke-width="1"/><line x1="266.7" y1="589.1999999999999" x2="263.7" y2="589.1999999999999" stroke="#262626" stroke-width="1"/><line x1="30.5" y1="625.4" x2="33.5" y2="625.4" stroke="#262626" stroke-width="1"/><line x1="266.7" y1="625.4" x2="263.7" y2="625.4" stroke="#262626" stroke-width="1"/><line x1="30.5" y1="661.6" x2="33.5" y2="661.6" stroke="#262626" stroke-width="1"/><line x1="266.7" y1="661.6" x2="263.7" y2="661.6" stroke="#262626" stroke-width="1"/><text x="28.8" y="521.6999999999999" font-size="14" text-anchor="end">6</text><text x="28.8" y="557.9" font-size="14" text-anchor="end">4</text><text x="28.8" y="594.0999999999999" font-size="14" text-anchor="end">2</text><text x="28.8" y="630.3" font-size="14" text-anchor="end">0</text><text x="28.8" y="666.5" font-size="14" text-anchor="end">-2</text><line x1="30.5" y1="679.6999999999999" x2="30.5" y2="676.6999999999999" stroke="#262626" stroke-width="1"/><line x1="30.5" y1="498.69999999999993" x2="30.5" y2="501.69999999999993" stroke="#262626" stroke-width="1"/><text x="30.5" y="693.9" font-size="14" text-anchor="middle">0</text><line x1="89.55" y1="679.6999999999999" x2="89.55" y2="676.6999999999999" stroke="#262626" stroke-width="1"/><line x1="89.55" y1="498.69999999999993" x2="89.55" y2="501.69999999999993" stroke="#262626" stroke-width="1"/><text x="89.55" y="693.9" font-size="14" text-anchor="middle">0.25</text><line x1="148.6" y1="679.6999999999999" x2="148.6" y2="676.6999999999999" stroke="#262626" stroke-width="1"/><line x1="148.6" y1="498.69999999999993" x2="148.6" y2="501.69999999999993" stroke="#262626" stroke-width="1"/><text x="148.6" y="693.9" font-size="14" text-anchor="middle">0.5</text><line x1="207.64999999999998" y1="679.6999999999999" x2="207.64999999999998" y2="676.6999999999999" stroke="#262626" stroke-width="1"/><line x1="207.64999999999998" y1="498.69999999999993" x2="207.64999999999998" y2="501.69999999999993" stroke="#262626" stroke-width="1"/><text x="207.64999999999998" y="693.9" font-size="14" text-anchor="middle">0.75</text><line x1="266.7" y1="679.6999999999999" x2="266.7" y2="676.6999999999999" stroke="#262626" stroke-width="1"/><line x1="266.7" y1="498.69999999999993" x2="266.7" y2="501.69999999999993" stroke="#262626" stroke-width="1"/><text x="266.7" y="693.9" font-size="14" text-anchor="middle">1</text><text x="12" y="587.1999999999999" font-size="14.5" text-anchor="middle" transform="rotate(-90 12 587.1999999999999)">Thrust force(N)</text><text x="148.5" y="707.9" font-size="14.5" text-anchor="middle">Time(s)</text><text x="146.3" y="726.2" font-size="13" text-anchor="middle">(e)</text><rect x="180.0" y="499.3" width="57.099999999999994" height="73.69999999999999" fill="#fff" stroke="#262626" stroke-width="1.4"/><line x1="183.0" y1="507.3" x2="200.6" y2="507.3" stroke="#ff0000" stroke-width="2.2"/><text x="202.6" y="511.90000000000003" font-size="12" text-anchor="start">-0.5L</text><line x1="183.0" y1="521.9" x2="200.6" y2="521.9" stroke="#00ff00" stroke-width="2.2"/><text x="202.6" y="526.5" font-size="12" text-anchor="start">-0.25L</text><line x1="183.0" y1="536.5" x2="200.6" y2="536.5" stroke="#00ffff" stroke-width="2.2"/><text x="202.6" y="541.1" font-size="12" text-anchor="start">0</text><line x1="183.0" y1="550.9" x2="200.6" y2="550.9" stroke="#0000ff" stroke-width="2.2"/><text x="202.6" y="555.5" font-size="12" text-anchor="start">0.25L</text><line x1="183.0" y1="565.5" x2="200.6" y2="565.5" stroke="#ff00ff" stroke-width="2.2"/><text x="202.6" y="570.1" font-size="12" text-anchor="start">0.5L</text>
<line x1="336.9" y1="540.8" x2="561.8" y2="540.8" stroke="#989898" stroke-width="1.2"/><line x1="336.9" y1="582.3" x2="561.8" y2="582.3" stroke="#989898" stroke-width="1.2"/><line x1="336.9" y1="623.8" x2="561.8" y2="623.8" stroke="#989898" stroke-width="1.2"/><line x1="336.9" y1="665.3" x2="561.8" y2="665.3" stroke="#989898" stroke-width="1.2"/><line x1="358.9" y1="499.29999999999995" x2="358.9" y2="679.5" stroke="#b0b0b0" stroke-width="1.2"/><line x1="404.5" y1="499.29999999999995" x2="404.5" y2="679.5" stroke="#b0b0b0" stroke-width="1.2"/><line x1="449.1" y1="499.29999999999995" x2="449.1" y2="679.5" stroke="#b0b0b0" stroke-width="1.2"/><line x1="494.3" y1="499.29999999999995" x2="494.3" y2="679.5" stroke="#b0b0b0" stroke-width="1.2"/><line x1="539.5" y1="499.29999999999995" x2="539.5" y2="679.5" stroke="#b0b0b0" stroke-width="1.2"/><path d="M358.90,535.82 L404.50,563.62 L449.10,605.95 L494.30,617.57 L539.50,632.10" fill="none" stroke="#ff0000" stroke-width="2.2" stroke-linejoin="round"/><circle cx="358.9" cy="535.8199999999999" r="2.8" fill="#ff0000"/><circle cx="404.5" cy="563.625" r="2.8" fill="#ff0000"/><circle cx="449.1" cy="605.9549999999999" r="2.8" fill="#ff0000"/><circle cx="494.3" cy="617.5749999999999" r="2.8" fill="#ff0000"/><circle cx="539.5" cy="632.0999999999999" r="2.8" fill="#ff0000"/><path d="M358.90,661.70 L404.50,614.81 L449.10,582.30 L494.30,567.08 L539.50,560.44" fill="none" stroke="#0000ff" stroke-width="2.2" stroke-linejoin="round"/><line x1="358.9" y1="657.96651" x2="358.9" y2="665.43633" stroke="#0000ff" stroke-width="2"/><line x1="356.79999999999995" y1="658.46651" x2="361.0" y2="658.46651" stroke="#0000ff" stroke-width="1.6"/><line x1="356.79999999999995" y1="664.93633" x2="361.0" y2="664.93633" stroke="#0000ff" stroke-width="1.6"/><circle cx="358.9" cy="661.70142" r="2.1" fill="#0000ff"/><line x1="404.5" y1="612.8709299999999" x2="404.5" y2="616.7441699999999" stroke="#0000ff" stroke-width="2"/><line x1="402.4" y1="613.3709299999999" x2="406.6" y2="613.3709299999999" stroke="#0000ff" stroke-width="1.6"/><line x1="402.4" y1="616.2441699999999" x2="406.6" y2="616.2441699999999" stroke="#0000ff" stroke-width="1.6"/><circle cx="404.5" cy="614.80755" r="2.1" fill="#0000ff"/><circle cx="449.1" cy="582.3" r="2.1" fill="#0000ff"/><circle cx="494.3" cy="567.0836999999999" r="2.1" fill="#0000ff"/><line x1="539.5" y1="558.7838999999999" x2="539.5" y2="562.1038199999999" stroke="#0000ff" stroke-width="2"/><line x1="537.4" y1="559.2838999999999" x2="541.6" y2="559.2838999999999" stroke="#0000ff" stroke-width="1.6"/><line x1="537.4" y1="561.6038199999999" x2="541.6" y2="561.6038199999999" stroke="#0000ff" stroke-width="1.6"/><circle cx="539.5" cy="560.44386" r="2.1" fill="#0000ff"/><rect x="336.9" y="499.29999999999995" width="224.89999999999998" height="180.20000000000005" stroke="#383838" stroke-width="1.7" fill="none"/><line x1="336.9" y1="499.29999999999995" x2="339.9" y2="499.29999999999995" stroke="#262626" stroke-width="1"/><text x="334.4" y="504.49999999999994" font-size="14" text-anchor="end">4</text><line x1="336.9" y1="540.8" x2="339.9" y2="540.8" stroke="#262626" stroke-width="1"/><text x="334.4" y="546.0" font-size="14" text-anchor="end">3</text><line x1="336.9" y1="582.3" x2="339.9" y2="582.3" stroke="#262626" stroke-width="1"/><text x="334.4" y="587.5" font-size="14" text-anchor="end">2</text><line x1="336.9" y1="623.8" x2="339.9" y2="623.8" stroke="#262626" stroke-width="1"/><text x="334.4" y="629.0" font-size="14" text-anchor="end">1</text><line x1="336.9" y1="665.3" x2="339.9" y2="665.3" stroke="#262626" stroke-width="1"/><text x="334.4" y="670.5" font-size="14" text-anchor="end">0</text><line x1="561.8" y1="499.30199999999996" x2="558.8" y2="499.30199999999996" stroke="#262626" stroke-width="1"/><text x="563.3" y="504.50199999999995" font-size="14" text-anchor="start">0.6</text><line x1="561.8" y1="540.8009999999999" x2="558.8" y2="540.8009999999999" stroke="#262626" stroke-width="1"/><text x="563.3" y="546.001" font-size="14" text-anchor="start">0.3</text><line x1="561.8" y1="582.3" x2="558.8" y2="582.3" stroke="#262626" stroke-width="1"/><text x="563.3" y="587.5" font-size="14" text-anchor="start">0</text><line x1="561.8" y1="623.799" x2="558.8" y2="623.799" stroke="#262626" stroke-width="1"/><text x="563.3" y="628.999" font-size="14" text-anchor="start">-0.3</text><line x1="561.8" y1="665.298" x2="558.8" y2="665.298" stroke="#262626" stroke-width="1"/><text x="563.3" y="670.498" font-size="14" text-anchor="start">-0.6</text><line x1="358.9" y1="679.5" x2="358.9" y2="676.5" stroke="#262626" stroke-width="1"/><line x1="358.9" y1="499.29999999999995" x2="358.9" y2="502.29999999999995" stroke="#262626" stroke-width="1"/><text x="358.9" y="693.7" font-size="14" text-anchor="middle">-0.5L</text><line x1="404.5" y1="679.5" x2="404.5" y2="676.5" stroke="#262626" stroke-width="1"/><line x1="404.5" y1="499.29999999999995" x2="404.5" y2="502.29999999999995" stroke="#262626" stroke-width="1"/><text x="404.5" y="693.7" font-size="14" text-anchor="middle">-0.25L</text><line x1="449.1" y1="679.5" x2="449.1" y2="676.5" stroke="#262626" stroke-width="1"/><line x1="449.1" y1="499.29999999999995" x2="449.1" y2="502.29999999999995" stroke="#262626" stroke-width="1"/><text x="449.1" y="693.7" font-size="14" text-anchor="middle">0</text><line x1="494.3" y1="679.5" x2="494.3" y2="676.5" stroke="#262626" stroke-width="1"/><line x1="494.3" y1="499.29999999999995" x2="494.3" y2="502.29999999999995" stroke="#262626" stroke-width="1"/><text x="494.3" y="693.7" font-size="14" text-anchor="middle">0.25L</text><line x1="539.5" y1="679.5" x2="539.5" y2="676.5" stroke="#262626" stroke-width="1"/><line x1="539.5" y1="499.29999999999995" x2="539.5" y2="502.29999999999995" stroke="#262626" stroke-width="1"/><text x="539.5" y="693.7" font-size="14" text-anchor="middle">0.5L</text><text x="320.8" y="589.4" font-size="14.5" text-anchor="middle" transform="rotate(-90 320.8 589.4)">Average thrust force(N)</text><text x="597" y="589.4" font-size="14.5" text-anchor="middle" transform="rotate(-90 597 589.4)">Efficiency</text><text x="449.2" y="707.6" font-size="14.5" text-anchor="middle">Drag velocity(mm/s)</text><text x="456.2" y="724.6" font-size="13" text-anchor="middle">(f)</text><rect x="430.2" y="502.3" width="129.09999999999997" height="30.80000000000001" fill="#fff" stroke="#262626" stroke-width="1.4"/><line x1="433.7" y1="509.9" x2="452.6" y2="509.9" stroke="#ff0000" stroke-width="2"/><circle cx="443.15" cy="509.9" r="1.6" fill="#ff4040"/><line x1="433.7" y1="525.0" x2="452.6" y2="525.0" stroke="#0000ff" stroke-width="2"/><text x="454.9" y="514.5" font-size="12" text-anchor="start">Average thrust force</text><text x="454.9" y="529.6" font-size="12" text-anchor="start">Efficiency</text>
</svg>
</body></html>
